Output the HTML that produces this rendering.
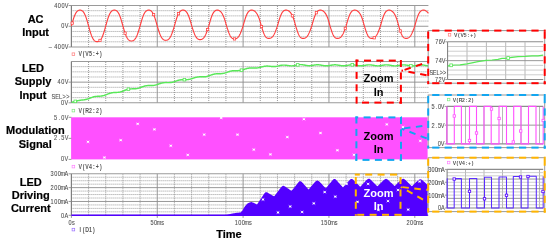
<!DOCTYPE html>
<html><head><meta charset="utf-8"><title>LED driver simulation</title>
<style>html,body{margin:0;padding:0;background:#fff;overflow:hidden;}svg{display:block;filter:blur(0.35px);}</style>
</head><body>
<svg width="550" height="244" viewBox="0 0 550 244">
<rect x="0" y="0" width="550" height="244" fill="#fff"/>
<line x1="71.4" y1="5.5" x2="71.4" y2="47" stroke="#8c8c8c" stroke-width="0.9"/>
<line x1="88.57" y1="6" x2="88.57" y2="47" stroke="#8e8e8e" stroke-width="0.9" stroke-dasharray="1,1"/>
<line x1="105.74" y1="6" x2="105.74" y2="47" stroke="#8e8e8e" stroke-width="0.9" stroke-dasharray="1,1"/>
<line x1="122.91" y1="6" x2="122.91" y2="47" stroke="#8e8e8e" stroke-width="0.9" stroke-dasharray="1,1"/>
<line x1="140.08" y1="6" x2="140.08" y2="47" stroke="#8e8e8e" stroke-width="0.9" stroke-dasharray="1,1"/>
<line x1="157.25" y1="5.5" x2="157.25" y2="47" stroke="#8c8c8c" stroke-width="0.9"/>
<line x1="174.42" y1="6" x2="174.42" y2="47" stroke="#8e8e8e" stroke-width="0.9" stroke-dasharray="1,1"/>
<line x1="191.59" y1="6" x2="191.59" y2="47" stroke="#8e8e8e" stroke-width="0.9" stroke-dasharray="1,1"/>
<line x1="208.76" y1="6" x2="208.76" y2="47" stroke="#8e8e8e" stroke-width="0.9" stroke-dasharray="1,1"/>
<line x1="225.93" y1="6" x2="225.93" y2="47" stroke="#8e8e8e" stroke-width="0.9" stroke-dasharray="1,1"/>
<line x1="243.1" y1="5.5" x2="243.1" y2="47" stroke="#8c8c8c" stroke-width="0.9"/>
<line x1="260.27" y1="6" x2="260.27" y2="47" stroke="#8e8e8e" stroke-width="0.9" stroke-dasharray="1,1"/>
<line x1="277.44" y1="6" x2="277.44" y2="47" stroke="#8e8e8e" stroke-width="0.9" stroke-dasharray="1,1"/>
<line x1="294.61" y1="6" x2="294.61" y2="47" stroke="#8e8e8e" stroke-width="0.9" stroke-dasharray="1,1"/>
<line x1="311.78" y1="6" x2="311.78" y2="47" stroke="#8e8e8e" stroke-width="0.9" stroke-dasharray="1,1"/>
<line x1="328.95" y1="5.5" x2="328.95" y2="47" stroke="#8c8c8c" stroke-width="0.9"/>
<line x1="346.12" y1="6" x2="346.12" y2="47" stroke="#8e8e8e" stroke-width="0.9" stroke-dasharray="1,1"/>
<line x1="363.29" y1="6" x2="363.29" y2="47" stroke="#8e8e8e" stroke-width="0.9" stroke-dasharray="1,1"/>
<line x1="380.46" y1="6" x2="380.46" y2="47" stroke="#8e8e8e" stroke-width="0.9" stroke-dasharray="1,1"/>
<line x1="397.63" y1="6" x2="397.63" y2="47" stroke="#8e8e8e" stroke-width="0.9" stroke-dasharray="1,1"/>
<line x1="414.8" y1="5.5" x2="414.8" y2="47" stroke="#8c8c8c" stroke-width="0.9"/>
<line x1="71.4" y1="10.69" x2="428.4" y2="10.69" stroke="#8e8e8e" stroke-width="0.9" stroke-dasharray="1,1"/>
<line x1="71.4" y1="15.88" x2="428.4" y2="15.88" stroke="#8e8e8e" stroke-width="0.9" stroke-dasharray="1,1"/>
<line x1="71.4" y1="21.06" x2="428.4" y2="21.06" stroke="#8e8e8e" stroke-width="0.9" stroke-dasharray="1,1"/>
<line x1="71.4" y1="26.25" x2="428.4" y2="26.25" stroke="#8c8c8c" stroke-width="0.9"/>
<line x1="71.4" y1="31.44" x2="428.4" y2="31.44" stroke="#8e8e8e" stroke-width="0.9" stroke-dasharray="1,1"/>
<line x1="71.4" y1="36.62" x2="428.4" y2="36.62" stroke="#8e8e8e" stroke-width="0.9" stroke-dasharray="1,1"/>
<line x1="71.4" y1="41.81" x2="428.4" y2="41.81" stroke="#8e8e8e" stroke-width="0.9" stroke-dasharray="1,1"/>
<line x1="71.4" y1="5.5" x2="428.4" y2="5.5" stroke="#9a9a9a" stroke-width="1.1"/>
<line x1="71.4" y1="47" x2="428.4" y2="47" stroke="#9a9a9a" stroke-width="1.1"/>
<line x1="71.4" y1="5.5" x2="71.4" y2="47" stroke="#7a7a7a" stroke-width="1.0"/>
<line x1="71.4" y1="61.5" x2="71.4" y2="102.8" stroke="#8c8c8c" stroke-width="0.9"/>
<line x1="88.57" y1="62" x2="88.57" y2="102.8" stroke="#8e8e8e" stroke-width="0.9" stroke-dasharray="1,1"/>
<line x1="105.74" y1="62" x2="105.74" y2="102.8" stroke="#8e8e8e" stroke-width="0.9" stroke-dasharray="1,1"/>
<line x1="122.91" y1="62" x2="122.91" y2="102.8" stroke="#8e8e8e" stroke-width="0.9" stroke-dasharray="1,1"/>
<line x1="140.08" y1="62" x2="140.08" y2="102.8" stroke="#8e8e8e" stroke-width="0.9" stroke-dasharray="1,1"/>
<line x1="157.25" y1="61.5" x2="157.25" y2="102.8" stroke="#8c8c8c" stroke-width="0.9"/>
<line x1="174.42" y1="62" x2="174.42" y2="102.8" stroke="#8e8e8e" stroke-width="0.9" stroke-dasharray="1,1"/>
<line x1="191.59" y1="62" x2="191.59" y2="102.8" stroke="#8e8e8e" stroke-width="0.9" stroke-dasharray="1,1"/>
<line x1="208.76" y1="62" x2="208.76" y2="102.8" stroke="#8e8e8e" stroke-width="0.9" stroke-dasharray="1,1"/>
<line x1="225.93" y1="62" x2="225.93" y2="102.8" stroke="#8e8e8e" stroke-width="0.9" stroke-dasharray="1,1"/>
<line x1="243.1" y1="61.5" x2="243.1" y2="102.8" stroke="#8c8c8c" stroke-width="0.9"/>
<line x1="260.27" y1="62" x2="260.27" y2="102.8" stroke="#8e8e8e" stroke-width="0.9" stroke-dasharray="1,1"/>
<line x1="277.44" y1="62" x2="277.44" y2="102.8" stroke="#8e8e8e" stroke-width="0.9" stroke-dasharray="1,1"/>
<line x1="294.61" y1="62" x2="294.61" y2="102.8" stroke="#8e8e8e" stroke-width="0.9" stroke-dasharray="1,1"/>
<line x1="311.78" y1="62" x2="311.78" y2="102.8" stroke="#8e8e8e" stroke-width="0.9" stroke-dasharray="1,1"/>
<line x1="328.95" y1="61.5" x2="328.95" y2="102.8" stroke="#8c8c8c" stroke-width="0.9"/>
<line x1="346.12" y1="62" x2="346.12" y2="102.8" stroke="#8e8e8e" stroke-width="0.9" stroke-dasharray="1,1"/>
<line x1="363.29" y1="62" x2="363.29" y2="102.8" stroke="#8e8e8e" stroke-width="0.9" stroke-dasharray="1,1"/>
<line x1="380.46" y1="62" x2="380.46" y2="102.8" stroke="#8e8e8e" stroke-width="0.9" stroke-dasharray="1,1"/>
<line x1="397.63" y1="62" x2="397.63" y2="102.8" stroke="#8e8e8e" stroke-width="0.9" stroke-dasharray="1,1"/>
<line x1="414.8" y1="61.5" x2="414.8" y2="102.8" stroke="#8c8c8c" stroke-width="0.9"/>
<line x1="71.4" y1="66.66" x2="428.4" y2="66.66" stroke="#8e8e8e" stroke-width="0.9" stroke-dasharray="1,1"/>
<line x1="71.4" y1="71.83" x2="428.4" y2="71.83" stroke="#8e8e8e" stroke-width="0.9" stroke-dasharray="1,1"/>
<line x1="71.4" y1="76.99" x2="428.4" y2="76.99" stroke="#8e8e8e" stroke-width="0.9" stroke-dasharray="1,1"/>
<line x1="71.4" y1="82.15" x2="428.4" y2="82.15" stroke="#8c8c8c" stroke-width="0.9"/>
<line x1="71.4" y1="87.31" x2="428.4" y2="87.31" stroke="#8e8e8e" stroke-width="0.9" stroke-dasharray="1,1"/>
<line x1="71.4" y1="92.47" x2="428.4" y2="92.47" stroke="#8e8e8e" stroke-width="0.9" stroke-dasharray="1,1"/>
<line x1="71.4" y1="97.64" x2="428.4" y2="97.64" stroke="#8e8e8e" stroke-width="0.9" stroke-dasharray="1,1"/>
<line x1="71.4" y1="61.5" x2="428.4" y2="61.5" stroke="#9a9a9a" stroke-width="1.1"/>
<line x1="71.4" y1="102.8" x2="428.4" y2="102.8" stroke="#9a9a9a" stroke-width="1.1"/>
<line x1="71.4" y1="61.5" x2="71.4" y2="102.8" stroke="#7a7a7a" stroke-width="1.0"/>
<rect x="71.1" y="117.3" width="356.5" height="42.1" fill="#ff50ff"/>
<line x1="71.4" y1="173.8" x2="71.4" y2="215.3" stroke="#8c8c8c" stroke-width="0.9"/>
<line x1="88.57" y1="174.3" x2="88.57" y2="215.3" stroke="#8e8e8e" stroke-width="0.9" stroke-dasharray="1,1"/>
<line x1="105.74" y1="174.3" x2="105.74" y2="215.3" stroke="#8e8e8e" stroke-width="0.9" stroke-dasharray="1,1"/>
<line x1="122.91" y1="174.3" x2="122.91" y2="215.3" stroke="#8e8e8e" stroke-width="0.9" stroke-dasharray="1,1"/>
<line x1="140.08" y1="174.3" x2="140.08" y2="215.3" stroke="#8e8e8e" stroke-width="0.9" stroke-dasharray="1,1"/>
<line x1="157.25" y1="173.8" x2="157.25" y2="215.3" stroke="#8c8c8c" stroke-width="0.9"/>
<line x1="174.42" y1="174.3" x2="174.42" y2="215.3" stroke="#8e8e8e" stroke-width="0.9" stroke-dasharray="1,1"/>
<line x1="191.59" y1="174.3" x2="191.59" y2="215.3" stroke="#8e8e8e" stroke-width="0.9" stroke-dasharray="1,1"/>
<line x1="208.76" y1="174.3" x2="208.76" y2="215.3" stroke="#8e8e8e" stroke-width="0.9" stroke-dasharray="1,1"/>
<line x1="225.93" y1="174.3" x2="225.93" y2="215.3" stroke="#8e8e8e" stroke-width="0.9" stroke-dasharray="1,1"/>
<line x1="243.1" y1="173.8" x2="243.1" y2="215.3" stroke="#8c8c8c" stroke-width="0.9"/>
<line x1="260.27" y1="174.3" x2="260.27" y2="215.3" stroke="#8e8e8e" stroke-width="0.9" stroke-dasharray="1,1"/>
<line x1="277.44" y1="174.3" x2="277.44" y2="215.3" stroke="#8e8e8e" stroke-width="0.9" stroke-dasharray="1,1"/>
<line x1="294.61" y1="174.3" x2="294.61" y2="215.3" stroke="#8e8e8e" stroke-width="0.9" stroke-dasharray="1,1"/>
<line x1="311.78" y1="174.3" x2="311.78" y2="215.3" stroke="#8e8e8e" stroke-width="0.9" stroke-dasharray="1,1"/>
<line x1="328.95" y1="173.8" x2="328.95" y2="215.3" stroke="#8c8c8c" stroke-width="0.9"/>
<line x1="346.12" y1="174.3" x2="346.12" y2="215.3" stroke="#8e8e8e" stroke-width="0.9" stroke-dasharray="1,1"/>
<line x1="363.29" y1="174.3" x2="363.29" y2="215.3" stroke="#8e8e8e" stroke-width="0.9" stroke-dasharray="1,1"/>
<line x1="380.46" y1="174.3" x2="380.46" y2="215.3" stroke="#8e8e8e" stroke-width="0.9" stroke-dasharray="1,1"/>
<line x1="397.63" y1="174.3" x2="397.63" y2="215.3" stroke="#8e8e8e" stroke-width="0.9" stroke-dasharray="1,1"/>
<line x1="414.8" y1="173.8" x2="414.8" y2="215.3" stroke="#8c8c8c" stroke-width="0.9"/>
<line x1="71.4" y1="177.26" x2="428.4" y2="177.26" stroke="#8e8e8e" stroke-width="0.9" stroke-dasharray="1,1"/>
<line x1="71.4" y1="180.72" x2="428.4" y2="180.72" stroke="#8e8e8e" stroke-width="0.9" stroke-dasharray="1,1"/>
<line x1="71.4" y1="184.18" x2="428.4" y2="184.18" stroke="#8e8e8e" stroke-width="0.9" stroke-dasharray="1,1"/>
<line x1="71.4" y1="187.63" x2="428.4" y2="187.63" stroke="#8c8c8c" stroke-width="0.9"/>
<line x1="71.4" y1="191.09" x2="428.4" y2="191.09" stroke="#8e8e8e" stroke-width="0.9" stroke-dasharray="1,1"/>
<line x1="71.4" y1="194.55" x2="428.4" y2="194.55" stroke="#8e8e8e" stroke-width="0.9" stroke-dasharray="1,1"/>
<line x1="71.4" y1="198.01" x2="428.4" y2="198.01" stroke="#8e8e8e" stroke-width="0.9" stroke-dasharray="1,1"/>
<line x1="71.4" y1="201.47" x2="428.4" y2="201.47" stroke="#8c8c8c" stroke-width="0.9"/>
<line x1="71.4" y1="204.93" x2="428.4" y2="204.93" stroke="#8e8e8e" stroke-width="0.9" stroke-dasharray="1,1"/>
<line x1="71.4" y1="208.38" x2="428.4" y2="208.38" stroke="#8e8e8e" stroke-width="0.9" stroke-dasharray="1,1"/>
<line x1="71.4" y1="211.84" x2="428.4" y2="211.84" stroke="#8e8e8e" stroke-width="0.9" stroke-dasharray="1,1"/>
<line x1="71.4" y1="173.8" x2="428.4" y2="173.8" stroke="#9a9a9a" stroke-width="1.1"/>
<line x1="71.4" y1="215.3" x2="428.4" y2="215.3" stroke="#9a9a9a" stroke-width="1.1"/>
<line x1="71.4" y1="173.8" x2="71.4" y2="215.3" stroke="#7a7a7a" stroke-width="1.0"/>
<line x1="68.6" y1="5.5" x2="71.4" y2="5.5" stroke="#8c8c8c" stroke-width="0.9"/>
<line x1="68.6" y1="26.25" x2="71.4" y2="26.25" stroke="#8c8c8c" stroke-width="0.9"/>
<line x1="68.6" y1="47" x2="71.4" y2="47" stroke="#8c8c8c" stroke-width="0.9"/>
<line x1="68.6" y1="82.15" x2="71.4" y2="82.15" stroke="#8c8c8c" stroke-width="0.9"/>
<line x1="68.6" y1="102.8" x2="71.4" y2="102.8" stroke="#8c8c8c" stroke-width="0.9"/>
<line x1="68.6" y1="117.3" x2="71.4" y2="117.3" stroke="#8c8c8c" stroke-width="0.9"/>
<line x1="68.6" y1="138.35" x2="71.4" y2="138.35" stroke="#8c8c8c" stroke-width="0.9"/>
<line x1="68.6" y1="159.4" x2="71.4" y2="159.4" stroke="#8c8c8c" stroke-width="0.9"/>
<line x1="68.6" y1="173.8" x2="71.4" y2="173.8" stroke="#8c8c8c" stroke-width="0.9"/>
<line x1="68.6" y1="187.63" x2="71.4" y2="187.63" stroke="#8c8c8c" stroke-width="0.9"/>
<line x1="68.6" y1="201.47" x2="71.4" y2="201.47" stroke="#8c8c8c" stroke-width="0.9"/>
<line x1="68.6" y1="215.3" x2="71.4" y2="215.3" stroke="#8c8c8c" stroke-width="0.9"/>
<text transform="scale(0.82,1)" x="67.96 72.41 76.86 81.31" y="7.93" font-family='"Liberation Sans", Arial, sans-serif' font-size="6.8" fill="#505050" font-weight="normal" text-anchor="middle" stroke="#505050" stroke-width="0.1">400V</text>
<text transform="scale(0.82,1)" x="76.68 81.25" y="28.33" font-family='"Liberation Sans", Arial, sans-serif' font-size="6.8" fill="#505050" font-weight="normal" text-anchor="middle" stroke="#505050" stroke-width="0.1">0V</text>
<text transform="scale(0.82,1)" x="67.96 72.41 76.86 81.31" y="49.03" font-family='"Liberation Sans", Arial, sans-serif' font-size="6.8" fill="#505050" font-weight="normal" text-anchor="middle" stroke="#505050" stroke-width="0.1">400V</text>
<text transform="scale(0.82,1)" x="61.40" y="48.9" font-family='"Liberation Sans", Arial, sans-serif' font-size="6.8" fill="#505050" stroke="#505050" stroke-width="0.2" text-anchor="middle">&#8211;</text>
<text transform="scale(0.82,1)" x="71.95 76.59 81.22" y="84.43" font-family='"Liberation Sans", Arial, sans-serif' font-size="6.8" fill="#505050" font-weight="normal" text-anchor="middle" stroke="#505050" stroke-width="0.1">40V</text>
<text transform="scale(0.82,1)" x="65.12 69.51 73.90 78.29 82.68" y="98.53" font-family='"Liberation Sans", Arial, sans-serif' font-size="6.8" fill="#505050" font-weight="normal" text-anchor="middle" stroke="#505050" stroke-width="0.1">SEL&gt;&gt;</text>
<text transform="scale(0.82,1)" x="76.43 81.01" y="104.93" font-family='"Liberation Sans", Arial, sans-serif' font-size="6.8" fill="#505050" font-weight="normal" text-anchor="middle" stroke="#505050" stroke-width="0.1">0V</text>
<text transform="scale(0.82,1)" x="67.64 72.18 76.72 81.27" y="119.83" font-family='"Liberation Sans", Arial, sans-serif' font-size="6.8" fill="#505050" font-weight="normal" text-anchor="middle" stroke="#505050" stroke-width="0.1">5.0V</text>
<text transform="scale(0.82,1)" x="67.64 72.18 76.72 81.27" y="140.33" font-family='"Liberation Sans", Arial, sans-serif' font-size="6.8" fill="#505050" font-weight="normal" text-anchor="middle" stroke="#505050" stroke-width="0.1">2.5V</text>
<text transform="scale(0.82,1)" x="76.43 81.01" y="161.33" font-family='"Liberation Sans", Arial, sans-serif' font-size="6.8" fill="#505050" font-weight="normal" text-anchor="middle" stroke="#505050" stroke-width="0.1">0V</text>
<text transform="scale(0.82,1)" x="63.63 67.98 72.32 76.66 81.00" y="175.83" font-family='"Liberation Sans", Arial, sans-serif' font-size="6.8" fill="#505050" font-weight="normal" text-anchor="middle" stroke="#505050" stroke-width="0.1">300mA</text>
<text transform="scale(0.82,1)" x="63.63 67.98 72.32 76.66 81.00" y="190.03" font-family='"Liberation Sans", Arial, sans-serif' font-size="6.8" fill="#505050" font-weight="normal" text-anchor="middle" stroke="#505050" stroke-width="0.1">200mA</text>
<text transform="scale(0.82,1)" x="63.63 67.98 72.32 76.66 81.00" y="203.83" font-family='"Liberation Sans", Arial, sans-serif' font-size="6.8" fill="#505050" font-weight="normal" text-anchor="middle" stroke="#505050" stroke-width="0.1">100mA</text>
<text transform="scale(0.82,1)" x="76.31 80.88" y="217.63" font-family='"Liberation Sans", Arial, sans-serif' font-size="6.8" fill="#505050" font-weight="normal" text-anchor="middle" stroke="#505050" stroke-width="0.1">0A</text>
<line x1="71.4" y1="215.3" x2="71.4" y2="217.9" stroke="#8c8c8c" stroke-width="0.9"/>
<text transform="scale(0.82,1)" x="85.37 89.63" y="224.83" font-family='"Liberation Sans", Arial, sans-serif' font-size="6.8" fill="#505050" font-weight="normal" text-anchor="middle" stroke="#505050" stroke-width="0.1">0s</text>
<line x1="157.25" y1="215.3" x2="157.25" y2="217.9" stroke="#8c8c8c" stroke-width="0.9"/>
<text transform="scale(0.82,1)" x="185.59 189.83 194.07 198.31" y="224.83" font-family='"Liberation Sans", Arial, sans-serif' font-size="6.8" fill="#505050" font-weight="normal" text-anchor="middle" stroke="#505050" stroke-width="0.1">50ms</text>
<line x1="243.1" y1="215.3" x2="243.1" y2="217.9" stroke="#8c8c8c" stroke-width="0.9"/>
<text transform="scale(0.82,1)" x="288.30 292.54 296.77 301.00 305.23" y="224.83" font-family='"Liberation Sans", Arial, sans-serif' font-size="6.8" fill="#505050" font-weight="normal" text-anchor="middle" stroke="#505050" stroke-width="0.1">100ms</text>
<line x1="328.95" y1="215.3" x2="328.95" y2="217.9" stroke="#8c8c8c" stroke-width="0.9"/>
<text transform="scale(0.82,1)" x="393.00 397.23 401.46 405.70 409.93" y="224.83" font-family='"Liberation Sans", Arial, sans-serif' font-size="6.8" fill="#505050" font-weight="normal" text-anchor="middle" stroke="#505050" stroke-width="0.1">150ms</text>
<line x1="414.8" y1="215.3" x2="414.8" y2="217.9" stroke="#8c8c8c" stroke-width="0.9"/>
<text transform="scale(0.82,1)" x="497.57 501.80 506.04 510.27 514.50" y="224.83" font-family='"Liberation Sans", Arial, sans-serif' font-size="6.8" fill="#505050" font-weight="normal" text-anchor="middle" stroke="#505050" stroke-width="0.1">200ms</text>
<polyline points="71.4,26 71.75,24.72 72.1,23.46 72.45,22.22 72.8,21.01 73.15,19.84 73.5,18.73 73.85,17.68 74.2,16.69 74.55,15.78 74.9,14.94 75.25,14.18 75.6,13.49 75.95,12.88 76.3,12.34 76.65,11.88 77,11.48 77.35,11.14 77.7,10.86 78.05,10.63 78.4,10.45 78.75,10.31 79.1,10.2 79.45,10.14 79.8,10.1 80.15,10.1 80.5,10.13 80.85,10.2 81.2,10.3 81.55,10.44 81.9,10.62 82.25,10.84 82.6,11.12 82.95,11.46 83.3,11.85 83.65,12.31 84,12.85 84.35,13.45 84.7,14.14 85.05,14.89 85.4,15.73 85.75,16.64 86.1,17.62 86.45,18.67 86.8,19.78 87.15,20.94 87.5,22.15 87.85,23.39 88.2,24.65 88.55,25.93 88.9,27.19 89.25,28.44 89.6,29.67 89.95,30.86 90.3,32.01 90.65,33.12 91,34.16 91.35,35.14 91.7,36.04 92.05,36.88 92.4,37.63 92.75,38.32 93.1,38.92 93.45,39.46 93.8,39.92 94.15,40.32 94.5,40.66 94.85,40.94 95.2,41.17 95.55,41.35 95.9,41.49 96.25,41.59 96.6,41.66 96.95,41.69 97.3,41.69 97.65,41.66 98,41.59 98.35,41.48 98.7,41.34 99.05,41.16 99.4,40.93 99.75,40.66 100.1,40.32 100.45,39.93 100.8,39.47 101.15,38.95 101.5,38.35 101.85,37.68 102.2,36.94 102.55,36.12 102.9,35.22 103.25,34.26 103.6,33.24 103.95,32.15 104.3,31.01 104.65,29.84 105,28.62 105.35,27.39 105.7,26.14 106.05,24.87 106.4,23.6 106.75,22.36 107.1,21.15 107.45,19.97 107.8,18.86 108.15,17.8 108.5,16.8 108.85,15.88 109.2,15.03 109.55,14.26 109.9,13.56 110.25,12.95 110.6,12.4 110.95,11.93 111.3,11.52 111.65,11.17 112,10.89 112.35,10.65 112.7,10.46 113.05,10.32 113.4,10.21 113.75,10.14 114.1,10.11 114.45,10.1 114.8,10.13 115.15,10.19 115.5,10.29 115.85,10.42 116.2,10.59 116.55,10.82 116.9,11.09 117.25,11.41 117.6,11.8 117.95,12.26 118.3,12.78 118.65,13.38 119,14.05 119.35,14.8 119.7,15.63 120.05,16.53 120.4,17.51 120.75,18.55 121.1,19.65 121.45,20.81 121.8,22.01 122.15,23.24 122.5,24.51 122.85,25.78 123.2,27.01 123.55,28.22 123.9,29.4 124.25,30.56 124.6,31.68 124.95,32.74 125.3,33.75 125.65,34.69 126,35.57 126.35,36.38 126.7,37.11 127.05,37.77 127.4,38.35 127.75,38.87 128.1,39.31 128.45,39.7 128.8,40.02 129.15,40.29 129.5,40.51 129.85,40.68 130.2,40.81 130.55,40.91 130.9,40.97 131.25,41 131.6,41 131.95,40.97 132.3,40.9 132.65,40.81 133,40.68 133.35,40.51 133.7,40.3 134.05,40.04 134.4,39.73 134.75,39.36 135.1,38.93 135.45,38.43 135.8,37.87 136.15,37.24 136.5,36.53 136.85,35.76 137.2,34.91 137.55,34 137.9,33.03 138.25,32 138.6,30.92 138.95,29.79 139.3,28.64 139.65,27.46 140,26.27 140.35,25.01 140.7,23.75 141.05,22.5 141.4,21.28 141.75,20.11 142.1,18.98 142.45,17.91 142.8,16.91 143.15,15.98 143.5,15.13 143.85,14.34 144.2,13.64 144.55,13.01 144.9,12.46 145.25,11.98 145.6,11.56 145.95,11.21 146.3,10.92 146.65,10.68 147,10.48 147.35,10.33 147.7,10.22 148.05,10.15 148.4,10.11 148.75,10.1 149.1,10.12 149.45,10.18 149.8,10.27 150.15,10.4 150.5,10.57 150.85,10.79 151.2,11.05 151.55,11.37 151.9,11.76 152.25,12.2 152.6,12.72 152.95,13.31 153.3,13.97 153.65,14.71 154,15.53 154.35,16.43 154.7,17.39 155.05,18.42 155.4,19.52 155.75,20.67 156.1,21.87 156.45,23.1 156.8,24.36 157.15,25.63 157.5,26.83 157.85,27.99 158.2,29.12 158.55,30.23 158.9,31.3 159.25,32.32 159.6,33.29 159.95,34.19 160.3,35.04 160.65,35.81 161,36.52 161.35,37.16 161.7,37.72 162.05,38.22 162.4,38.66 162.75,39.03 163.1,39.34 163.45,39.6 163.8,39.82 164.15,39.99 164.5,40.12 164.85,40.21 165.2,40.27 165.55,40.3 165.9,40.3 166.25,40.28 166.6,40.22 166.95,40.13 167.3,40.01 167.65,39.86 168,39.66 168.35,39.42 168.7,39.12 169.05,38.78 169.4,38.38 169.75,37.91 170.1,37.38 170.45,36.79 170.8,36.12 171.15,35.39 171.5,34.59 171.85,33.73 172.2,32.81 172.55,31.83 172.9,30.81 173.25,29.74 173.6,28.64 173.95,27.52 174.3,26.39 174.65,25.16 175,23.89 175.35,22.64 175.7,21.42 176.05,20.24 176.4,19.11 176.75,18.03 177.1,17.02 177.45,16.08 177.8,15.22 178.15,14.43 178.5,13.72 178.85,13.08 179.2,12.52 179.55,12.03 179.9,11.61 180.25,11.25 180.6,10.95 180.95,10.7 181.3,10.5 181.65,10.35 182,10.23 182.35,10.16 182.7,10.11 183.05,10.1 183.4,10.12 183.75,10.17 184.1,10.26 184.45,10.38 184.8,10.55 185.15,10.75 185.5,11.01 185.85,11.32 186.2,11.68 186.55,12.1 186.9,12.59 187.25,13.15 187.6,13.78 187.95,14.48 188.3,15.25 188.65,16.09 189,17 189.35,17.98 189.7,19.02 190.05,20.12 190.4,21.26 190.75,22.45 191.1,23.67 191.45,24.92 191.8,26.16 192.15,27.25 192.5,28.34 192.85,29.41 193.2,30.45 193.55,31.46 193.9,32.42 194.25,33.33 194.6,34.18 194.95,34.98 195.3,35.7 195.65,36.35 196,36.94 196.35,37.46 196.7,37.91 197.05,38.29 197.4,38.62 197.75,38.89 198.1,39.11 198.45,39.28 198.8,39.41 199.15,39.51 199.5,39.57 199.85,39.61 200.2,39.61 200.55,39.59 200.9,39.54 201.25,39.46 201.6,39.35 201.95,39.2 202.3,39.02 202.65,38.79 203,38.52 203.35,38.2 203.7,37.82 204.05,37.38 204.4,36.89 204.75,36.33 205.1,35.7 205.45,35.01 205.8,34.26 206.15,33.45 206.5,32.58 206.85,31.65 207.2,30.68 207.55,29.67 207.9,28.63 208.25,27.57 208.6,26.49 208.95,25.31 209.3,24.04 209.65,22.78 210,21.56 210.35,20.37 210.7,19.23 211.05,18.15 211.4,17.14 211.75,16.19 212.1,15.31 212.45,14.52 212.8,13.79 213.15,13.15 213.5,12.58 213.85,12.08 214.2,11.65 214.55,11.29 214.9,10.98 215.25,10.73 215.6,10.52 215.95,10.36 216.3,10.25 216.65,10.16 217,10.12 217.35,10.1 217.7,10.12 218.05,10.16 218.4,10.24 218.75,10.36 219.1,10.5 219.45,10.69 219.8,10.91 220.15,11.17 220.5,11.48 220.85,11.84 221.2,12.25 221.55,12.71 221.9,13.23 222.25,13.81 222.6,14.45 222.95,15.15 223.3,15.92 223.65,16.75 224,17.65 224.35,18.62 224.7,19.65 225.05,20.74 225.4,21.89 225.75,23.09 226.1,24.33 226.45,25.6 226.8,26.74 227.15,27.81 227.5,28.88 227.85,29.94 228.2,30.97 228.55,31.95 228.9,32.89 229.25,33.77 229.6,34.58 229.95,35.31 230.3,35.97 230.65,36.56 231,37.06 231.35,37.49 231.7,37.85 232.05,38.14 232.4,38.38 232.75,38.57 233.1,38.71 233.45,38.81 233.8,38.87 234.15,38.91 234.5,38.92 234.85,38.9 235.2,38.85 235.55,38.78 235.9,38.68 236.25,38.54 236.6,38.37 236.95,38.16 237.3,37.91 237.65,37.61 238,37.26 238.35,36.85 238.7,36.38 239.05,35.86 239.4,35.27 239.75,34.63 240.1,33.92 240.45,33.16 240.8,32.34 241.15,31.46 241.5,30.55 241.85,29.6 242.2,28.61 242.55,27.61 242.9,26.59 243.25,25.45 243.6,24.18 243.95,22.92 244.3,21.69 244.65,20.5 245,19.36 245.35,18.27 245.7,17.25 246.05,16.29 246.4,15.41 246.75,14.6 247.1,13.87 247.45,13.22 247.8,12.64 248.15,12.14 248.5,11.7 248.85,11.33 249.2,11.01 249.55,10.75 249.9,10.54 250.25,10.38 250.6,10.26 250.95,10.17 251.3,10.12 251.65,10.1 252,10.11 252.35,10.16 252.7,10.23 253.05,10.33 253.4,10.46 253.75,10.62 254.1,10.82 254.45,11.05 254.8,11.31 255.15,11.61 255.5,11.94 255.85,12.32 256.2,12.75 256.55,13.22 256.9,13.74 257.25,14.31 257.6,14.95 257.95,15.64 258.3,16.41 258.65,17.24 259,18.15 259.35,19.13 259.7,20.18 260.05,21.31 260.4,22.53 260.75,23.8 261.1,25.13 261.45,26.39 261.8,27.48 262.15,28.57 262.5,29.65 262.85,30.71 263.2,31.72 263.55,32.68 263.9,33.57 264.25,34.39 264.6,35.12 264.95,35.77 265.3,36.33 265.65,36.81 266,37.21 266.35,37.53 266.7,37.79 267.05,37.99 267.4,38.15 267.75,38.26 268.1,38.34 268.45,38.38 268.8,38.4 269.15,38.39 269.5,38.36 269.85,38.3 270.2,38.21 270.55,38.09 270.9,37.94 271.25,37.74 271.6,37.51 271.95,37.23 272.3,36.91 272.65,36.53 273,36.09 273.35,35.59 273.7,35.04 274.05,34.43 274.4,33.75 274.75,33.02 275.1,32.24 275.45,31.4 275.8,30.52 276.15,29.6 276.5,28.65 276.85,27.67 277.2,26.68 277.55,25.6 277.9,24.32 278.25,23.07 278.6,21.83 278.95,20.64 279.3,19.49 279.65,18.39 280,17.36 280.35,16.4 280.7,15.51 281.05,14.69 281.4,13.95 281.75,13.29 282.1,12.7 282.45,12.19 282.8,11.74 283.15,11.36 283.5,11.04 283.85,10.78 284.2,10.57 284.55,10.4 284.9,10.27 285.25,10.18 285.6,10.12 285.95,10.1 286.3,10.11 286.65,10.15 287,10.22 287.35,10.32 287.7,10.44 288.05,10.6 288.4,10.78 288.75,11 289.1,11.26 289.45,11.55 289.8,11.87 290.15,12.24 290.5,12.65 290.85,13.11 291.2,13.62 291.55,14.19 291.9,14.81 292.25,15.5 292.6,16.26 292.95,17.09 293.3,18 293.65,18.98 294,20.04 294.35,21.18 294.7,22.38 295.05,23.65 295.4,24.98 295.75,26.27 296.1,27.35 296.45,28.44 296.8,29.53 297.15,30.59 297.5,31.61 297.85,32.58 298.2,33.48 298.55,34.3 298.9,35.05 299.25,35.7 299.6,36.27 299.95,36.76 300.3,37.16 300.65,37.5 301,37.76 301.35,37.97 301.7,38.13 302.05,38.25 302.4,38.33 302.75,38.38 303.1,38.4 303.45,38.39 303.8,38.36 304.15,38.31 304.5,38.22 304.85,38.1 305.2,37.96 305.55,37.77 305.9,37.54 306.25,37.27 306.6,36.95 306.95,36.57 307.3,36.14 307.65,35.65 308,35.11 308.35,34.5 308.7,33.83 309.05,33.11 309.4,32.33 309.75,31.5 310.1,30.62 310.45,29.71 310.8,28.76 311.15,27.79 311.5,26.8 311.85,25.74 312.2,24.47 312.55,23.21 312.9,21.97 313.25,20.77 313.6,19.62 313.95,18.52 314.3,17.48 314.65,16.51 315,15.61 315.35,14.78 315.7,14.03 316.05,13.36 316.4,12.77 316.75,12.24 317.1,11.79 317.45,11.4 317.8,11.08 318.15,10.81 318.5,10.59 318.85,10.41 319.2,10.28 319.55,10.19 319.9,10.13 320.25,10.1 320.6,10.11 320.95,10.14 321.3,10.21 321.65,10.3 322,10.43 322.35,10.58 322.7,10.76 323.05,10.98 323.4,11.23 323.75,11.51 324.1,11.83 324.45,12.2 324.8,12.6 325.15,13.06 325.5,13.56 325.85,14.12 326.2,14.74 326.55,15.42 326.9,16.17 327.25,16.99 327.6,17.89 327.95,18.87 328.3,19.92 328.65,21.04 329,22.24 329.35,23.5 329.7,24.82 330.05,26.14 330.4,27.23 330.75,28.32 331.1,29.4 331.45,30.47 331.8,31.49 332.15,32.47 332.5,33.38 332.85,34.21 333.2,34.96 333.55,35.63 333.9,36.21 334.25,36.71 334.6,37.12 334.95,37.46 335.3,37.74 335.65,37.95 336,38.12 336.35,38.24 336.7,38.32 337.05,38.38 337.4,38.4 337.75,38.4 338.1,38.37 338.45,38.31 338.8,38.23 339.15,38.12 339.5,37.97 339.85,37.79 340.2,37.57 340.55,37.3 340.9,36.99 341.25,36.62 341.6,36.19 341.95,35.71 342.3,35.17 342.65,34.57 343,33.91 343.35,33.19 343.7,32.42 344.05,31.6 344.4,30.72 344.75,29.81 345.1,28.87 345.45,27.9 345.8,26.91 346.15,25.89 346.5,24.61 346.85,23.35 347.2,22.11 347.55,20.91 347.9,19.75 348.25,18.64 348.6,17.59 348.95,16.61 349.3,15.7 349.65,14.87 350,14.11 350.35,13.44 350.7,12.83 351.05,12.3 351.4,11.84 351.75,11.45 352.1,11.11 352.45,10.84 352.8,10.61 353.15,10.43 353.5,10.3 353.85,10.2 354.2,10.13 354.55,10.1 354.9,10.1 355.25,10.14 355.6,10.2 355.95,10.29 356.3,10.41 356.65,10.56 357,10.74 357.35,10.95 357.7,11.2 358.05,11.48 358.4,11.79 358.75,12.15 359.1,12.55 359.45,13 359.8,13.5 360.15,14.05 360.5,14.66 360.85,15.34 361.2,16.08 361.55,16.9 361.9,17.79 362.25,18.75 362.6,19.79 362.95,20.91 363.3,22.1 363.65,23.36 364,24.67 364.35,26.02 364.7,27.1 365.05,28.19 365.4,29.28 365.75,30.35 366.1,31.38 366.45,32.36 366.8,33.28 367.15,34.12 367.5,34.88 367.85,35.56 368.2,36.15 368.55,36.65 368.9,37.08 369.25,37.43 369.6,37.71 369.95,37.93 370.3,38.1 370.65,38.23 371,38.32 371.35,38.37 371.7,38.4 372.05,38.4 372.4,38.37 372.75,38.32 373.1,38.24 373.45,38.13 373.8,37.99 374.15,37.81 374.5,37.6 374.85,37.33 375.2,37.02 375.55,36.66 375.9,36.24 376.25,35.77 376.6,35.24 376.95,34.64 377.3,33.99 377.65,33.28 378,32.51 378.35,31.69 378.7,30.83 379.05,29.92 379.4,28.98 379.75,28.01 380.1,27.02 380.45,26.03 380.8,24.76 381.15,23.49 381.5,22.25 381.85,21.04 382.2,19.88 382.55,18.76 382.9,17.71 383.25,16.72 383.6,15.8 383.95,14.96 384.3,14.2 384.65,13.51 385,12.9 385.35,12.36 385.7,11.89 386.05,11.49 386.4,11.15 386.75,10.87 387.1,10.63 387.45,10.45 387.8,10.31 388.15,10.21 388.5,10.14 388.85,10.1 389.2,10.1 389.55,10.13 389.9,10.19 390.25,10.28 390.6,10.39 390.95,10.54 391.3,10.72 391.65,10.93 392,11.17 392.35,11.44 392.7,11.76 393.05,12.11 393.4,12.51 393.75,12.95 394.1,13.44 394.45,13.99 394.8,14.59 395.15,15.26 395.5,15.99 395.85,16.8 396.2,17.68 396.55,18.64 396.9,19.67 397.25,20.78 397.6,21.96 397.95,23.21 398.3,24.52 398.65,25.87 399,26.98 399.35,28.07 399.7,29.16 400.05,30.23 400.4,31.26 400.75,32.25 401.1,33.18 401.45,34.03 401.8,34.8 402.15,35.49 402.5,36.09 402.85,36.6 403.2,37.03 403.55,37.39 403.9,37.68 404.25,37.91 404.6,38.08 404.95,38.22 405.3,38.31 405.65,38.37 406,38.4 406.35,38.4 406.7,38.38 407.05,38.33 407.4,38.25 407.75,38.15 408.1,38.01 408.45,37.84 408.8,37.62 409.15,37.37 409.5,37.06 409.85,36.71 410.2,36.3 410.55,35.83 410.9,35.3 411.25,34.71 411.6,34.07 411.95,33.36 412.3,32.6 412.65,31.79 413,30.93 413.35,30.02 413.7,29.09 414.05,28.12 414.4,27.14 414.75,26.14 415.1,24.91 415.45,23.64 415.8,22.39 416.15,21.18 416.5,20.01 416.85,18.89 417.2,17.83 417.55,16.83 417.9,15.91 418.25,15.06 418.6,14.28 418.95,13.58 419.3,12.96 419.65,12.42 420,11.94 420.35,11.53 420.7,11.18 421.05,10.89 421.4,10.66 421.75,10.47 422.1,10.32 422.45,10.22 422.8,10.14 423.15,10.11 423.5,10.1 423.85,10.13 424.2,10.18 424.55,10.27 424.9,10.38 425.25,10.52 425.6,10.7 425.95,10.9 426.3,11.14 426.65,11.41 427,11.72 427.35,12.07 427.7,12.46 428.05,12.9 428.4,13.38" fill="none" stroke="#ff4040" stroke-width="1.15" stroke-linejoin="round"/>
<rect x="71.05" y="21.95" width="2.3" height="2.3" fill="#fff" stroke="#ff4040" stroke-width="0.75"/>
<rect x="98.85" y="39.27" width="2.3" height="2.3" fill="#fff" stroke="#ff4040" stroke-width="0.75"/>
<rect x="123.95" y="32.03" width="2.3" height="2.3" fill="#fff" stroke="#ff4040" stroke-width="0.75"/>
<rect x="152.45" y="13.45" width="2.3" height="2.3" fill="#fff" stroke="#ff4040" stroke-width="0.75"/>
<rect x="177.35" y="12.57" width="2.3" height="2.3" fill="#fff" stroke="#ff4040" stroke-width="0.75"/>
<rect x="206.45" y="28.38" width="2.3" height="2.3" fill="#fff" stroke="#ff4040" stroke-width="0.75"/>
<rect x="233.35" y="37.77" width="2.3" height="2.3" fill="#fff" stroke="#ff4040" stroke-width="0.75"/>
<rect x="260.35" y="25.39" width="2.3" height="2.3" fill="#fff" stroke="#ff4040" stroke-width="0.75"/>
<rect x="291.25" y="14.67" width="2.3" height="2.3" fill="#fff" stroke="#ff4040" stroke-width="0.75"/>
<rect x="315.25" y="11.62" width="2.3" height="2.3" fill="#fff" stroke="#ff4040" stroke-width="0.75"/>
<rect x="344.15" y="27.17" width="2.3" height="2.3" fill="#fff" stroke="#ff4040" stroke-width="0.75"/>
<rect x="373.05" y="36.64" width="2.3" height="2.3" fill="#fff" stroke="#ff4040" stroke-width="0.75"/>
<rect x="399.15" y="29.82" width="2.3" height="2.3" fill="#fff" stroke="#ff4040" stroke-width="0.75"/>
<polyline points="71.6,102.3 72.2,102.17 72.8,102.03 73.4,101.88 74,101.73 74.6,101.57 75.2,101.41 75.8,101.25 76.4,101.09 77,100.94 77.6,100.79 78.2,100.65 78.8,100.53 79.4,100.41 80,100.31 80.6,100.22 81.2,100.14 81.8,100.06 82.4,99.99 83,99.92 83.6,99.85 84.2,99.77 84.8,99.67 85.4,99.56 86,99.44 86.6,99.29 87.2,99.13 87.8,98.94 88.4,98.74 89,98.52 89.6,98.28 90.2,98.04 90.8,97.79 91.4,97.56 92,97.34 92.6,97.14 93.2,96.96 93.8,96.8 94.4,96.66 95,96.55 95.6,96.46 96.2,96.4 96.8,96.35 97.4,96.31 98,96.28 98.6,96.25 99.2,96.22 99.8,96.19 100.4,96.15 101,96.09 101.6,96.01 102.2,95.91 102.8,95.78 103.4,95.64 104,95.47 104.6,95.27 105.2,95.06 105.8,94.84 106.4,94.6 107,94.36 107.6,94.12 108.2,93.89 108.8,93.66 109.4,93.45 110,93.26 110.6,93.09 111.2,92.94 111.8,92.81 112.4,92.71 113,92.64 113.6,92.58 114.2,92.53 114.8,92.5 115.4,92.48 116,92.46 116.6,92.43 117.2,92.4 117.8,92.35 118.4,92.28 119,92.2 119.6,92.09 120.2,91.96 120.8,91.8 121.4,91.62 122,91.42 122.6,91.21 123.2,90.98 123.8,90.74 124.4,90.5 125,90.26 125.6,90.03 126.2,89.81 126.8,89.6 127.4,89.42 128,89.27 128.6,89.15 129.2,89.05 129.8,88.97 130.4,88.91 131,88.88 131.6,88.85 132.2,88.84 132.8,88.83 133.4,88.83 134,88.81 134.6,88.79 135.2,88.75 135.8,88.7 136.4,88.62 137,88.52 137.6,88.4 138.2,88.25 138.8,88.08 139.4,87.89 140,87.68 140.6,87.47 141.2,87.24 141.8,87.02 142.4,86.79 143,86.58 143.6,86.38 144.2,86.2 144.8,86.03 145.4,85.89 146,85.78 146.6,85.69 147.2,85.62 147.8,85.57 148.4,85.53 149,85.52 149.6,85.5 150.2,85.5 150.8,85.51 151.4,85.51 152,85.5 152.6,85.47 153.2,85.42 153.8,85.35 154.4,85.26 155,85.14 155.6,85 156.2,84.84 156.8,84.66 157.4,84.46 158,84.26 158.6,84.05 159.2,83.84 159.8,83.64 160.4,83.44 161,83.26 161.6,83.1 162.2,82.96 162.8,82.84 163.4,82.75 164,82.68 164.6,82.63 165.2,82.6 165.8,82.59 166.4,82.59 167,82.6 167.6,82.61 168.2,82.61 168.8,82.61 169.4,82.59 170,82.55 170.6,82.5 171.2,82.42 171.8,82.32 172.4,82.2 173,82.05 173.6,81.88 174.2,81.7 174.8,81.5 175.4,81.29 176,81.08 176.6,80.87 177.2,80.67 177.8,80.48 178.4,80.3 179,80.15 179.6,80.02 180.2,79.91 180.8,79.82 181.4,79.76 182,79.72 182.6,79.7 183.2,79.69 183.8,79.69 184.4,79.7 185,79.71 185.6,79.71 186.2,79.71 186.8,79.68 187.4,79.64 188,79.58 188.6,79.5 189.2,79.39 189.8,79.26 190.4,79.11 191,78.93 191.6,78.74 192.2,78.54 192.8,78.34 193.4,78.13 194,77.92 194.6,77.72 195.2,77.54 195.8,77.37 196.4,77.23 197,77.1 197.6,77 198.2,76.93 198.8,76.87 199.4,76.84 200,76.82 200.6,76.82 201.2,76.83 201.8,76.84 202.4,76.84 203,76.84 203.6,76.83 204.2,76.81 204.8,76.76 205.4,76.69 206,76.6 206.6,76.47 207.2,76.32 207.8,76.15 208.4,75.96 209,75.76 209.6,75.55 210.2,75.33 210.8,75.11 211.4,74.89 212,74.69 212.6,74.5 213.2,74.33 213.8,74.18 214.4,74.05 215,73.95 215.6,73.87 216.2,73.81 216.8,73.78 217.4,73.76 218,73.75 218.6,73.74 219.2,73.74 219.8,73.74 220.4,73.72 221,73.7 221.6,73.65 222.2,73.59 222.8,73.5 223.4,73.39 224,73.26 224.6,73.1 225.2,72.92 225.8,72.74 226.4,72.53 227,72.32 227.6,72.11 228.2,71.89 228.8,71.69 229.4,71.49 230,71.31 230.6,71.16 231.2,71.02 231.8,70.91 232.4,70.82 233,70.75 233.6,70.7 234.2,70.68 234.8,70.67 235.4,70.66 236,70.67 236.6,70.67 237.2,70.67 237.8,70.66 238.4,70.63 239,70.58 239.6,70.52 240.2,70.43 240.8,70.31 241.4,70.18 242,70.03 242.6,69.87 243.2,69.7 243.8,69.51 244.4,69.31 245,69.12 245.6,68.92 246.2,68.74 246.8,68.57 247.4,68.41 248,68.28 248.6,68.17 249.2,68.08 249.8,68.02 250.4,67.97 251,67.95 251.6,67.95 252.2,67.96 252.8,67.98 253.4,68 254,68.02 254.6,68.03 255.2,68.03 255.8,68.02 256.4,67.99 257,67.93 257.6,67.85 258.2,67.75 258.8,67.62 259.4,67.47 260,67.31 260.6,67.17 261.2,67.03 261.8,66.88 262.4,66.74 263,66.59 263.6,66.46 264.2,66.34 264.8,66.24 265.4,66.17 266,66.11 266.6,66.08 267.2,66.07 267.8,66.09 268.4,66.12 269,66.17 269.6,66.23 270.2,66.3 270.8,66.37 271.4,66.44 272,66.5 272.6,66.54 273.2,66.57 273.8,66.58 274.4,66.56 275,66.52 275.6,66.46 276.2,66.37 276.8,66.27 277.4,66.14 278,66.01 278.6,65.86 279.2,65.72 279.8,65.57 280.4,65.44 281,65.34 281.6,65.25 282.2,65.17 282.8,65.12 283.4,65.1 284,65.1 284.6,65.12 285.2,65.16 285.8,65.22 286.4,65.3 287,65.38 287.6,65.47 288.2,65.56 288.8,65.65 289.4,65.72 290,65.78 290.6,65.83 291.2,65.85 291.8,65.85 292.4,65.82 293,65.77 293.6,65.7 294.2,65.61 294.8,65.5 295.4,65.38 296,65.26 296.6,65.13 297.2,65.01 297.8,64.89 298.4,64.79 299,64.7 299.6,64.64 300.2,64.6 300.8,64.61 301.4,64.64 302,64.69 302.6,64.77 303.2,64.86 303.8,64.96 304.4,65.07 305,65.19 305.6,65.3 306.2,65.41 306.8,65.5 307.4,65.58 308,65.64 308.6,65.68 309.2,65.69 309.8,65.68 310.4,65.65 311,65.59 311.6,65.52 312.2,65.43 312.8,65.34 313.4,65.23 314,65.13 314.6,65.03 315.2,64.95 315.8,64.87 316.4,64.82 317,64.79 317.6,64.78 318.2,64.79 318.8,64.83 319.4,64.89 320,64.97 320.6,65.06 321.2,65.16 321.8,65.27 322.4,65.37 323,65.48 323.6,65.58 324.2,65.66 324.8,65.73 325.4,65.78 326,65.8 326.6,65.8 327.2,65.78 327.8,65.73 328.4,65.67 329,65.58 329.6,65.49 330.2,65.38 330.8,65.27 331.4,65.17 332,65.07 332.6,64.98 333.2,64.91 333.8,64.85 334.4,64.82 335,64.81 335.6,64.83 336.2,64.87 336.8,64.93 337.4,65.01 338,65.1 338.6,65.21 339.2,65.32 339.8,65.43 340.4,65.53 341,65.62 341.6,65.7 342.2,65.76 342.8,65.8 343.4,65.82 344,65.81 344.6,65.78 345.2,65.73 345.8,65.66 346.4,65.57 347,65.47 347.6,65.36 348.2,65.25 348.8,65.15 349.4,65.05 350,64.97 350.6,64.9 351.2,64.86 351.8,64.83 352.4,64.83 353,64.86 353.6,64.9 354.2,64.97 354.8,65.06 355.4,65.15 356,65.26 356.6,65.37 357.2,65.48 357.8,65.58 358.4,65.67 359,65.74 359.6,65.8 360.2,65.83 360.8,65.84 361.4,65.82 362,65.78 362.6,65.72 363.2,65.64 363.8,65.55 364.4,65.45 365,65.34 365.6,65.23 366.2,65.13 366.8,65.04 367.4,64.96 368,64.9 368.6,64.86 369.2,64.85 369.8,64.85 370.4,64.89 371,64.94 371.6,65.01 372.2,65.1 372.8,65.2 373.4,65.31 374,65.42 374.6,65.53 375.2,65.63 375.8,65.71 376.4,65.78 377,65.83 377.6,65.85 378.2,65.85 378.8,65.83 379.4,65.78 380,65.71 380.6,65.63 381.2,65.53 381.8,65.43 382.4,65.32 383,65.21 383.6,65.11 384.2,65.02 384.8,64.95 385.4,64.9 386,64.87 386.6,64.86 387.2,64.88 387.8,64.92 388.4,64.98 389,65.06 389.6,65.15 390.2,65.26 390.8,65.36 391.4,65.47 392,65.58 392.6,65.67 393.2,65.75 393.8,65.81 394.4,65.85 395,65.87 395.6,65.86 396.2,65.83 396.8,65.78 397.4,65.7 398,65.62 398.6,65.52 399.2,65.41 399.8,65.3 400.4,65.19 401,65.1 401.6,65.01 402.2,64.95 402.8,64.9 403.4,64.88 404,64.88 404.6,64.9 405.2,64.95 405.8,65.02 406.4,65.1 407,65.2 407.6,65.31 408.2,65.42 408.8,65.52 409.4,65.63 410,65.72 410.6,65.79 411.2,65.84 411.8,65.88 412.4,65.88 413,65.87 413.6,65.83 414.2,65.77 414.8,65.69 415.4,65.6 416,65.5 416.6,65.39 417.2,65.28 417.8,65.18 418.4,65.08 419,65.01 419.6,64.95 420.2,64.91 420.8,64.89 421.4,64.9 422,64.93 422.6,64.99 423.2,65.06 423.8,65.15 424.4,65.25 425,65.36 425.6,65.47 426.2,65.58 426.8,65.67 427.4,65.76 428,65.82 428.4,65.86" fill="none" stroke="#58e858" stroke-width="1.45" stroke-linejoin="round"/>
<rect x="74" y="100.08" width="2.6" height="2.6" fill="#fff" stroke="#58e858" stroke-width="0.8"/>
<rect x="127.1" y="87.89" width="2.6" height="2.6" fill="#fff" stroke="#58e858" stroke-width="0.8"/>
<rect x="183.1" y="78.4" width="2.6" height="2.6" fill="#fff" stroke="#58e858" stroke-width="0.8"/>
<rect x="240.2" y="68.85" width="2.6" height="2.6" fill="#fff" stroke="#58e858" stroke-width="0.8"/>
<rect x="296.4" y="63.61" width="2.6" height="2.6" fill="#fff" stroke="#58e858" stroke-width="0.8"/>
<rect x="351" y="63.53" width="2.6" height="2.6" fill="#fff" stroke="#58e858" stroke-width="0.8"/>
<rect x="409.6" y="64.52" width="2.6" height="2.6" fill="#fff" stroke="#58e858" stroke-width="0.8"/>
<rect x="87" y="141" width="2" height="1.6" fill="#fff"/>
<path d="M86.4,140.5L89.6,143.1M89.6,140.5L86.4,143.1" stroke="#fff" stroke-width="0.55" opacity="0.8"/>
<rect x="103.4" y="156.7" width="2" height="1.6" fill="#fff"/>
<path d="M102.8,156.2L106,158.8M106,156.2L102.8,158.8" stroke="#fff" stroke-width="0.55" opacity="0.8"/>
<rect x="119.7" y="139.4" width="2" height="1.6" fill="#fff"/>
<path d="M119.1,138.9L122.3,141.5M122.3,138.9L119.1,141.5" stroke="#fff" stroke-width="0.55" opacity="0.8"/>
<rect x="136.7" y="123" width="2" height="1.6" fill="#fff"/>
<path d="M136.1,122.5L139.3,125.1M139.3,122.5L136.1,125.1" stroke="#fff" stroke-width="0.55" opacity="0.8"/>
<rect x="153.4" y="128.6" width="2" height="1.6" fill="#fff"/>
<path d="M152.8,128.1L156,130.7M156,128.1L152.8,130.7" stroke="#fff" stroke-width="0.55" opacity="0.8"/>
<rect x="169.8" y="144.9" width="2" height="1.6" fill="#fff"/>
<path d="M169.2,144.4L172.4,147M172.4,144.4L169.2,147" stroke="#fff" stroke-width="0.55" opacity="0.8"/>
<rect x="186.8" y="154.1" width="2" height="1.6" fill="#fff"/>
<path d="M186.2,153.6L189.4,156.2M189.4,153.6L186.2,156.2" stroke="#fff" stroke-width="0.55" opacity="0.8"/>
<rect x="203.2" y="133.8" width="2" height="1.6" fill="#fff"/>
<path d="M202.6,133.3L205.8,135.9M205.8,133.3L202.6,135.9" stroke="#fff" stroke-width="0.55" opacity="0.8"/>
<rect x="220.2" y="117.1" width="2" height="1.6" fill="#fff"/>
<path d="M219.6,116.6L222.8,119.2M222.8,116.6L219.6,119.2" stroke="#fff" stroke-width="0.55" opacity="0.8"/>
<rect x="236.5" y="133.8" width="2" height="1.6" fill="#fff"/>
<path d="M235.9,133.3L239.1,135.9M239.1,133.3L235.9,135.9" stroke="#fff" stroke-width="0.55" opacity="0.8"/>
<rect x="252.8" y="148.8" width="2" height="1.6" fill="#fff"/>
<path d="M252.2,148.3L255.4,150.9M255.4,148.3L252.2,150.9" stroke="#fff" stroke-width="0.55" opacity="0.8"/>
<rect x="269.4" y="153.6" width="2" height="1.6" fill="#fff"/>
<path d="M268.8,153.1L272,155.7M272,153.1L268.8,155.7" stroke="#fff" stroke-width="0.55" opacity="0.8"/>
<rect x="286.3" y="136.3" width="2" height="1.6" fill="#fff"/>
<path d="M285.7,135.8L288.9,138.4M288.9,135.8L285.7,138.4" stroke="#fff" stroke-width="0.55" opacity="0.8"/>
<rect x="302.9" y="118.4" width="2" height="1.6" fill="#fff"/>
<path d="M302.3,117.9L305.5,120.5M305.5,117.9L302.3,120.5" stroke="#fff" stroke-width="0.55" opacity="0.8"/>
<rect x="319.5" y="132.2" width="2" height="1.6" fill="#fff"/>
<path d="M318.9,131.7L322.1,134.3M322.1,131.7L318.9,134.3" stroke="#fff" stroke-width="0.55" opacity="0.8"/>
<rect x="336.4" y="149.5" width="2" height="1.6" fill="#fff"/>
<path d="M335.8,149L339,151.6M339,149L335.8,151.6" stroke="#fff" stroke-width="0.55" opacity="0.8"/>
<rect x="353" y="154" width="2" height="1.6" fill="#fff"/>
<path d="M352.4,153.5L355.6,156.1M355.6,153.5L352.4,156.1" stroke="#fff" stroke-width="0.55" opacity="0.8"/>
<rect x="369.5" y="138.2" width="2" height="1.6" fill="#fff"/>
<path d="M368.9,137.7L372.1,140.3M372.1,137.7L368.9,140.3" stroke="#fff" stroke-width="0.55" opacity="0.8"/>
<rect x="385.8" y="123.6" width="2" height="1.6" fill="#fff"/>
<path d="M385.2,123.1L388.4,125.7M388.4,123.1L385.2,125.7" stroke="#fff" stroke-width="0.55" opacity="0.8"/>
<rect x="402" y="126.3" width="2" height="1.6" fill="#fff"/>
<path d="M401.4,125.8L404.6,128.4M404.6,125.8L401.4,128.4" stroke="#fff" stroke-width="0.55" opacity="0.8"/>
<rect x="419.3" y="140.1" width="2" height="1.6" fill="#fff"/>
<path d="M418.7,139.6L421.9,142.2M421.9,139.6L418.7,142.2" stroke="#fff" stroke-width="0.55" opacity="0.8"/>
<path d="M71.4,215.9 L224,215.9 L224,215.3 L224.5,215.3 L225,215.23 L225.5,215.15 L226,215.07 L226.5,215 L227,214.86 L227.5,214.71 L228,214.57 L228.5,214.43 L229,214.29 L229.5,214.14 L230,214 L230.5,213.9 L231,213.8 L231.5,213.7 L232,213.6 L232.5,213.5 L233,213.4 L233.5,213.3 L234,213.2 L234.5,213.13 L235,213.07 L235.5,213 L236,212.93 L236.5,212.87 L237,212.8 L237.5,212.74 L238,212.69 L238.5,212.63 L239,212.57 L239.5,212.51 L240,212.46 L240.5,212.4 L241,211.93 L241.5,211.45 L242,210.97 L242.5,210.5 L243,209.57 L243.5,208.63 L244,207.7 L244.5,207.02 L245,206.35 L245.5,205.68 L246,205 L246.5,204.53 L247,204.07 L247.5,203.6 L248,203.35 L248.5,203.1 L249,202.85 L249.5,202.6 L250,202.42 L250.5,202.23 L251,202.05 L251.5,201.94 L252,202.16 L252.5,202.38 L253,202.6 L253.5,202.84 L254,203.07 L254.5,203.31 L255,203.55 L255.5,203.79 L256,204.03 L256.5,204.26 L257,204.54 L257.5,203.8 L258,203.06 L258.5,202.32 L259,201.57 L259.5,200.81 L260,200.05 L260.5,199.29 L261,198.52 L261.5,197.75 L262,196.97 L262.5,196.2 L263,195.43 L263.5,194.68 L264,193.96 L264.5,193.31 L265,192.78 L265.5,192.35 L266,192.22 L266.5,192.24 L267,192.37 L267.5,192.59 L268,192.86 L268.5,193.15 L269,193.45 L269.5,193.75 L270,194.04 L270.5,194.34 L271,194.63 L271.5,194.91 L272,195.19 L272.5,195.46 L273,195.72 L273.5,195.98 L274,196.24 L274.5,195.95 L275,195.3 L275.5,194.65 L276,193.99 L276.5,193.33 L277,192.67 L277.5,192.01 L278,191.35 L278.5,190.68 L279,190.02 L279.5,189.35 L280,188.7 L280.5,188.05 L281,187.43 L281.5,186.86 L282,186.39 L282.5,186.03 L283,185.84 L283.5,185.85 L284,185.97 L284.5,186.2 L285,186.49 L285.5,186.8 L286,187.14 L286.5,187.48 L287,187.82 L287.5,188.17 L288,188.51 L288.5,188.86 L289,189.2 L289.5,189.55 L290,189.89 L290.5,190.23 L291,190.57 L291.5,190.73 L292,190.19 L292.5,189.63 L293,189.06 L293.5,188.48 L294,187.89 L294.5,187.28 L295,186.66 L295.5,186.03 L296,185.39 L296.5,184.75 L297,184.09 L297.5,183.44 L298,182.8 L298.5,182.2 L299,181.68 L299.5,181.29 L300,181 L300.5,181.14 L301,181.38 L301.5,181.76 L302,182.23 L302.5,182.75 L303,183.29 L303.5,183.85 L304,184.41 L304.5,184.97 L305,185.53 L305.5,186.1 L306,186.66 L306.5,187.22 L307,187.78 L307.5,188.33 L308,188.88 L308.5,189.43 L309,189.05 L309.5,188.44 L310,187.82 L310.5,187.21 L311,186.61 L311.5,186 L312,185.41 L312.5,184.81 L313,184.22 L313.5,183.64 L314,183.06 L314.5,182.5 L315,181.96 L315.5,181.46 L316,181.03 L316.5,180.72 L317,180.53 L317.5,180.53 L318,180.67 L318.5,180.95 L319,181.33 L319.5,181.78 L320,182.26 L320.5,182.77 L321,183.28 L321.5,183.8 L322,184.33 L322.5,184.86 L323,185.39 L323.5,185.93 L324,186.47 L324.5,187.02 L325,187.56 L325.5,188.11 L326,188.2 L326.5,187.58 L327,186.97 L327.5,186.35 L328,185.73 L328.5,185.11 L329,184.49 L329.5,183.87 L330,183.25 L330.5,182.63 L331,182.01 L331.5,181.4 L332,180.81 L332.5,180.24 L333,179.73 L333.5,179.32 L334,179.04 L334.5,178.92 L335,179.08 L335.5,179.36 L336,179.77 L336.5,180.26 L337,180.79 L337.5,181.34 L338,181.89 L338.5,182.46 L339,183.02 L339.5,183.58 L340,184.14 L340.5,184.7 L341,185.25 L341.5,185.8 L342,186.35 L342.5,186.9 L343,187.44 L343.5,186.86 L344,186.27 L344.5,185.69 L345,185.11 L345.5,184.54 L346,183.97 L346.5,183.4 L347,182.84 L347.5,182.28 L348,181.73 L348.5,181.18 L349,180.65 L349.5,180.15 L350,179.69 L350.5,179.31 L351,179.04 L351.5,178.89 L352,178.97 L352.5,179.17 L353,179.5 L353.5,179.92 L354,180.39 L354.5,180.89 L355,181.4 L355.5,181.92 L356,182.44 L356.5,182.97 L357,183.49 L357.5,184.02 L358,184.54 L358.5,185.07 L359,185.59 L359.5,186.11 L360,186.63 L360.5,186.51 L361,185.96 L361.5,185.42 L362,184.87 L362.5,184.33 L363,183.78 L363.5,183.24 L364,182.7 L364.5,182.17 L365,181.64 L365.5,181.11 L366,180.6 L366.5,180.1 L367,179.63 L367.5,179.23 L368,178.92 L368.5,178.73 L369,178.71 L369.5,178.87 L370,179.15 L370.5,179.54 L371,179.99 L371.5,180.47 L372,180.96 L372.5,181.47 L373,181.98 L373.5,182.49 L374,183 L374.5,183.51 L375,184.02 L375.5,184.52 L376,185.03 L376.5,185.54 L377,186.04 L377.5,186.33 L378,185.81 L378.5,185.29 L379,184.78 L379.5,184.26 L380,183.75 L380.5,183.25 L381,182.74 L381.5,182.24 L382,181.75 L382.5,181.26 L383,180.78 L383.5,180.32 L384,179.88 L384.5,179.48 L385,179.16 L385.5,178.96 L386,178.84 L386.5,178.96 L387,179.17 L387.5,179.48 L388,179.87 L388.5,180.3 L389,180.75 L389.5,181.22 L390,181.69 L390.5,182.16 L391,182.63 L391.5,183.1 L392,183.58 L392.5,184.05 L393,184.52 L393.5,185 L394,185.47 L394.5,185.94 L395,185.66 L395.5,185.18 L396,184.7 L396.5,184.23 L397,183.75 L397.5,183.27 L398,182.79 L398.5,182.31 L399,181.83 L399.5,181.36 L400,180.89 L400.5,180.42 L401,179.97 L401.5,179.55 L402,179.2 L402.5,178.94 L403,178.79 L403.5,178.82 L404,179 L404.5,179.29 L405,179.68 L405.5,180.12 L406,180.59 L406.5,181.07 L407,181.56 L407.5,182.05 L408,182.55 L408.5,183.05 L409,183.54 L409.5,184.04 L410,184.54 L410.5,185.04 L411,185.54 L411.5,186.04 L412,186.14 L412.5,185.65 L413,185.17 L413.5,184.69 L414,184.21 L414.5,183.73 L415,183.25 L415.5,182.78 L416,182.32 L416.5,181.85 L417,181.4 L417.5,180.95 L418,180.52 L418.5,180.11 L419,179.75 L419.5,179.48 L420,179.31 L420.5,179.25 L421,179.38 L421.5,179.6 L422,179.93 L422.5,180.32 L423,180.75 L423.5,181.19 L424,181.65 L424.5,182.11 L425,182.57 L425.5,183.04 L426,183.51 L426.5,183.98 L427,184.45 L427.5,184.92 L427.6,185.01 L427.6,215.9 Z" fill="#5200ff" stroke="none"/>
<line x1="71.4" y1="215.3" x2="427.6" y2="215.3" stroke="#5200ff" stroke-width="1.4"/>
<rect x="262" y="198.7" width="2" height="1.6" fill="#fff"/>
<path d="M261.4,198.2L264.6,200.8M264.6,198.2L261.4,200.8" stroke="#fff" stroke-width="0.55" opacity="0.8"/>
<rect x="277" y="211.7" width="2" height="1.6" fill="#fff"/>
<path d="M276.4,211.2L279.6,213.8M279.6,211.2L276.4,213.8" stroke="#fff" stroke-width="0.55" opacity="0.8"/>
<rect x="289.2" y="205.7" width="2" height="1.6" fill="#fff"/>
<path d="M288.6,205.2L291.8,207.8M291.8,205.2L288.6,207.8" stroke="#fff" stroke-width="0.55" opacity="0.8"/>
<rect x="301.1" y="211.2" width="2" height="1.6" fill="#fff"/>
<path d="M300.5,210.7L303.7,213.3M303.7,210.7L300.5,213.3" stroke="#fff" stroke-width="0.55" opacity="0.8"/>
<rect x="312.8" y="202.6" width="2" height="1.6" fill="#fff"/>
<path d="M312.2,202.1L315.4,204.7M315.4,202.1L312.2,204.7" stroke="#fff" stroke-width="0.55" opacity="0.8"/>
<rect x="323.7" y="191.3" width="2" height="1.6" fill="#fff"/>
<path d="M323.1,190.8L326.3,193.4M326.3,190.8L323.1,193.4" stroke="#fff" stroke-width="0.55" opacity="0.8"/>
<rect x="334.3" y="195.8" width="2" height="1.6" fill="#fff"/>
<path d="M333.7,195.3L336.9,197.9M336.9,195.3L333.7,197.9" stroke="#fff" stroke-width="0.55" opacity="0.8"/>
<rect x="345.6" y="183.1" width="2" height="1.6" fill="#fff"/>
<path d="M345,182.6L348.2,185.2M348.2,182.6L345,185.2" stroke="#fff" stroke-width="0.55" opacity="0.8"/>
<rect x="356.5" y="201" width="2" height="1.6" fill="#fff"/>
<path d="M355.9,200.5L359.1,203.1M359.1,200.5L355.9,203.1" stroke="#fff" stroke-width="0.55" opacity="0.8"/>
<rect x="367.1" y="183.1" width="2" height="1.6" fill="#fff"/>
<path d="M366.5,182.6L369.7,185.2M369.7,182.6L366.5,185.2" stroke="#fff" stroke-width="0.55" opacity="0.8"/>
<rect x="377.4" y="209.2" width="2" height="1.6" fill="#fff"/>
<path d="M376.8,208.7L380,211.3M380,208.7L376.8,211.3" stroke="#fff" stroke-width="0.55" opacity="0.8"/>
<rect x="387" y="200.3" width="2" height="1.6" fill="#fff"/>
<path d="M386.4,199.8L389.6,202.4M389.6,199.8L386.4,202.4" stroke="#fff" stroke-width="0.55" opacity="0.8"/>
<rect x="397" y="189.2" width="2" height="1.6" fill="#fff"/>
<path d="M396.4,188.7L399.6,191.3M399.6,188.7L396.4,191.3" stroke="#fff" stroke-width="0.55" opacity="0.8"/>
<rect x="407.2" y="208.8" width="2" height="1.6" fill="#fff"/>
<path d="M406.6,208.3L409.8,210.9M409.8,208.3L406.6,210.9" stroke="#fff" stroke-width="0.55" opacity="0.8"/>
<rect x="418.6" y="180.7" width="2" height="1.6" fill="#fff"/>
<path d="M418,180.2L421.2,182.8M421.2,180.2L418,182.8" stroke="#fff" stroke-width="0.55" opacity="0.8"/>
<rect x="72.1" y="52.9" width="2.6" height="2.6" fill="#fff" stroke="#ff7a7a" stroke-width="0.7"/>
<text transform="scale(0.82,1)" x="97.82 102.00 106.18 110.37 114.55 118.73 122.91" y="56.49" font-family='"Liberation Sans", Arial, sans-serif' font-size="6.4" fill="#555" font-weight="bold" text-anchor="middle">V(V5:+)</text>
<rect x="72.1" y="109.3" width="2.6" height="2.6" fill="#fff" stroke="#80e880" stroke-width="0.7"/>
<text transform="scale(0.82,1)" x="97.82 102.00 106.18 110.37 114.55 118.73 122.91" y="112.89" font-family='"Liberation Sans", Arial, sans-serif' font-size="6.4" fill="#555" font-weight="bold" text-anchor="middle">V(R2:2)</text>
<rect x="72.1" y="165.3" width="2.6" height="2.6" fill="#fff" stroke="#ff80ff" stroke-width="0.7"/>
<text transform="scale(0.82,1)" x="97.82 102.00 106.18 110.37 114.55 118.73 122.91" y="168.89" font-family='"Liberation Sans", Arial, sans-serif' font-size="6.4" fill="#555" font-weight="bold" text-anchor="middle">V(V4:+)</text>
<rect x="72.1" y="228.3" width="2.6" height="2.6" fill="#fff" stroke="#9a70ff" stroke-width="0.7"/>
<text transform="scale(0.82,1)" x="97.83 102.02 106.22 110.41 114.61" y="231.89" font-family='"Liberation Sans", Arial, sans-serif' font-size="6.4" fill="#555" font-weight="bold" text-anchor="middle">I(D1)</text>
<rect x="355.6" y="59.6" width="3" height="2" fill="#ff0000"/>
<rect x="364" y="59.6" width="7" height="2" fill="#ff0000"/>
<rect x="376.4" y="59.6" width="7" height="2" fill="#ff0000"/>
<rect x="388.8" y="59.6" width="7" height="2" fill="#ff0000"/>
<rect x="362" y="101.6" width="7" height="2" fill="#ff0000"/>
<rect x="374.4" y="101.6" width="7" height="2" fill="#ff0000"/>
<rect x="386.8" y="101.6" width="7" height="2" fill="#ff0000"/>
<rect x="399.2" y="101.6" width="2.7" height="2" fill="#ff0000"/>
<rect x="355.6" y="59.6" width="2" height="6.9" fill="#ff0000"/>
<rect x="355.6" y="71.9" width="2" height="7" fill="#ff0000"/>
<rect x="355.6" y="84.3" width="2" height="7" fill="#ff0000"/>
<rect x="355.6" y="96.7" width="2" height="6.9" fill="#ff0000"/>
<rect x="399.9" y="60" width="2" height="7" fill="#ff0000"/>
<rect x="399.9" y="72.4" width="2" height="7" fill="#ff0000"/>
<rect x="399.9" y="84.8" width="2" height="7" fill="#ff0000"/>
<rect x="399.9" y="97.2" width="2" height="6.4" fill="#ff0000"/>
<rect x="355.4" y="116.4" width="2.8" height="2" fill="#12a6f0"/>
<rect x="363.6" y="116.4" width="7" height="2" fill="#12a6f0"/>
<rect x="376" y="116.4" width="7" height="2" fill="#12a6f0"/>
<rect x="388.4" y="116.4" width="7" height="2" fill="#12a6f0"/>
<rect x="400.8" y="116.4" width="1.2" height="2" fill="#12a6f0"/>
<rect x="355.4" y="158.9" width="1.7" height="2" fill="#12a6f0"/>
<rect x="362.5" y="158.9" width="7" height="2" fill="#12a6f0"/>
<rect x="374.9" y="158.9" width="7" height="2" fill="#12a6f0"/>
<rect x="387.3" y="158.9" width="7" height="2" fill="#12a6f0"/>
<rect x="399.7" y="158.9" width="2.3" height="2" fill="#12a6f0"/>
<rect x="355.4" y="116.5" width="2" height="7" fill="#12a6f0"/>
<rect x="355.4" y="128.9" width="2" height="7" fill="#12a6f0"/>
<rect x="355.4" y="141.3" width="2" height="7" fill="#12a6f0"/>
<rect x="355.4" y="153.7" width="2" height="7" fill="#12a6f0"/>
<rect x="400" y="117" width="2" height="7" fill="#12a6f0"/>
<rect x="400" y="129.4" width="2" height="7" fill="#12a6f0"/>
<rect x="400" y="141.8" width="2" height="7" fill="#12a6f0"/>
<rect x="400" y="154.2" width="2" height="6.7" fill="#12a6f0"/>
<rect x="354.8" y="173.6" width="5" height="2" fill="#ffb400"/>
<rect x="365.2" y="173.6" width="7" height="2" fill="#ffb400"/>
<rect x="377.6" y="173.6" width="7" height="2" fill="#ffb400"/>
<rect x="390" y="173.6" width="7" height="2" fill="#ffb400"/>
<rect x="357.2" y="213.8" width="7" height="2" fill="#ffb400"/>
<rect x="369.6" y="213.8" width="7" height="2" fill="#ffb400"/>
<rect x="382" y="213.8" width="7" height="2" fill="#ffb400"/>
<rect x="394.4" y="213.8" width="7" height="2" fill="#ffb400"/>
<rect x="354.8" y="177" width="2" height="7" fill="#ffb400"/>
<rect x="354.8" y="189.4" width="2" height="7" fill="#ffb400"/>
<rect x="354.8" y="201.8" width="2" height="7" fill="#ffb400"/>
<rect x="354.8" y="214.2" width="2" height="1.6" fill="#ffb400"/>
<rect x="399.5" y="177" width="2" height="7" fill="#ffb400"/>
<rect x="399.5" y="189.4" width="2" height="7" fill="#ffb400"/>
<rect x="399.5" y="201.8" width="2" height="7" fill="#ffb400"/>
<rect x="399.5" y="214.2" width="2" height="1.6" fill="#ffb400"/>
<text x="378.6" y="81.8" font-family='"Liberation Sans", Arial, sans-serif' font-size="11" text-anchor="middle" fill="#000" font-weight="bold">Zoom</text>
<text x="378.6" y="95.8" font-family='"Liberation Sans", Arial, sans-serif' font-size="11" text-anchor="middle" fill="#000" font-weight="bold">In</text>
<text x="378.6" y="139.7" font-family='"Liberation Sans", Arial, sans-serif' font-size="11" text-anchor="middle" fill="#000" font-weight="bold">Zoom</text>
<text x="378.6" y="153" font-family='"Liberation Sans", Arial, sans-serif' font-size="11" text-anchor="middle" fill="#000" font-weight="bold">In</text>
<text x="378.6" y="197" font-family='"Liberation Sans", Arial, sans-serif' font-size="11" text-anchor="middle" fill="#fff" font-weight="bold">Zoom</text>
<text x="378.6" y="210.4" font-family='"Liberation Sans", Arial, sans-serif' font-size="11" text-anchor="middle" fill="#fff" font-weight="bold">In</text>
<line x1="401.5" y1="70.8" x2="428.2" y2="62" stroke="#ff0000" stroke-width="1.9" stroke-dasharray="6.5,5.5" stroke-dashoffset="-3.2"/>
<line x1="401.5" y1="70.5" x2="428.2" y2="75.5" stroke="#ff0000" stroke-width="1.9" stroke-dasharray="6.5,5.5" stroke-dashoffset="5"/>
<line x1="401.5" y1="128.7" x2="428.2" y2="125.3" stroke="#12a6f0" stroke-width="1.9" stroke-dasharray="6.5,5.5" stroke-dashoffset="-2.5"/>
<line x1="401.5" y1="128.7" x2="428.2" y2="139" stroke="#12a6f0" stroke-width="1.9" stroke-dasharray="6.5,5.5" stroke-dashoffset="3.5"/>
<line x1="400.8" y1="187" x2="428.2" y2="190" stroke="#ffb400" stroke-width="1.9" stroke-dasharray="6.5,5.5" stroke-dashoffset="-1.6"/>
<line x1="400.8" y1="187" x2="428.2" y2="202.5" stroke="#ffb400" stroke-width="1.9" stroke-dasharray="6.5,5.5" stroke-dashoffset="5"/>
<rect x="428.2" y="30.6" width="116.5" height="52.6" fill="#fff" stroke="#999" stroke-width="1"/>
<rect x="448.3" y="33.6" width="2.5" height="2.5" fill="#fff" stroke="#ff7a7a" stroke-width="0.7"/>
<text transform="scale(0.82,1)" x="555.84 559.70 563.57 567.44 571.31 575.17 579.04" y="36.92" font-family='"Liberation Sans", Arial, sans-serif' font-size="6.2" fill="#555" font-weight="bold" text-anchor="middle">V(V5:+)</text>
<line x1="467" y1="42.3" x2="467" y2="79.5" stroke="#a6a6a6" stroke-width="0.8"/>
<line x1="486.4" y1="42.3" x2="486.4" y2="79.5" stroke="#a6a6a6" stroke-width="0.8"/>
<line x1="505.7" y1="42.3" x2="505.7" y2="79.5" stroke="#a6a6a6" stroke-width="0.8"/>
<line x1="525" y1="42.3" x2="525" y2="79.5" stroke="#a6a6a6" stroke-width="0.8"/>
<line x1="447.6" y1="46.51" x2="543.2" y2="46.51" stroke="#c2c2c2" stroke-width="0.8"/>
<line x1="447.6" y1="51.22" x2="543.2" y2="51.22" stroke="#c2c2c2" stroke-width="0.8"/>
<line x1="447.6" y1="55.94" x2="543.2" y2="55.94" stroke="#c2c2c2" stroke-width="0.8"/>
<line x1="447.6" y1="60.65" x2="543.2" y2="60.65" stroke="#8c8c8c" stroke-width="0.9"/>
<line x1="447.6" y1="65.36" x2="543.2" y2="65.36" stroke="#c2c2c2" stroke-width="0.8"/>
<line x1="447.6" y1="70.08" x2="543.2" y2="70.08" stroke="#c2c2c2" stroke-width="0.8"/>
<line x1="447.6" y1="74.79" x2="543.2" y2="74.79" stroke="#c2c2c2" stroke-width="0.8"/>
<line x1="447.6" y1="41.8" x2="543.2" y2="41.8" stroke="#8c8c8c" stroke-width="1.1"/>
<line x1="447.6" y1="79.5" x2="543.2" y2="79.5" stroke="#8c8c8c" stroke-width="1.1"/>
<line x1="447.6" y1="41.8" x2="447.6" y2="79.5" stroke="#7a7a7a" stroke-width="1.0"/>
<line x1="445.4" y1="41.8" x2="447.6" y2="41.8" stroke="#8c8c8c" stroke-width="0.9"/>
<line x1="445.4" y1="60.6" x2="447.6" y2="60.6" stroke="#8c8c8c" stroke-width="0.9"/>
<line x1="445.4" y1="79.5" x2="447.6" y2="79.5" stroke="#8c8c8c" stroke-width="0.9"/>
<text transform="scale(0.82,1)" x="532.68 536.83 540.98" y="43.93" font-family='"Liberation Sans", Arial, sans-serif' font-size="6.8" fill="#505050" font-weight="normal" text-anchor="middle" stroke="#505050" stroke-width="0.1">76V</text>
<text transform="scale(0.82,1)" x="532.68 536.83 540.98" y="62.83" font-family='"Liberation Sans", Arial, sans-serif' font-size="6.8" fill="#505050" font-weight="normal" text-anchor="middle" stroke="#505050" stroke-width="0.1">74V</text>
<text transform="scale(0.82,1)" x="526.05 530.10 534.15 538.20 542.24" y="74.83" font-family='"Liberation Sans", Arial, sans-serif' font-size="6.8" fill="#505050" font-weight="normal" text-anchor="middle" stroke="#505050" stroke-width="0.1">SEL&gt;&gt;</text>
<text transform="scale(0.82,1)" x="532.48 536.71 540.93" y="81.63" font-family='"Liberation Sans", Arial, sans-serif' font-size="6.8" fill="#505050" font-weight="normal" text-anchor="middle" stroke="#505050" stroke-width="0.1">72V</text>
<polyline points="447.8,66.2 451,65.3 455,65 460,64.8 467,63.8 472,62.8 478,61.6 486,60.4 492,60 498,59.4 502,58.3 505,58.4 508,58 512,57.3 518,56.6 525,56.4 532,55.9 538,55.8 543.2,55.2" fill="none" stroke="#58e858" stroke-width="1.25" stroke-linejoin="round"/>
<rect x="449.8" y="63.9" width="2.8" height="2.8" fill="#fff" stroke="#58e858" stroke-width="0.8"/>
<rect x="506.8" y="56.6" width="2.8" height="2.8" fill="#fff" stroke="#58e858" stroke-width="0.8"/>
<rect x="432.2" y="29.6" width="7.2" height="2" fill="#ff0000"/>
<rect x="444.6" y="29.6" width="7.2" height="2" fill="#ff0000"/>
<rect x="457" y="29.6" width="7.2" height="2" fill="#ff0000"/>
<rect x="469.4" y="29.6" width="7.2" height="2" fill="#ff0000"/>
<rect x="481.8" y="29.6" width="7.2" height="2" fill="#ff0000"/>
<rect x="494.2" y="29.6" width="7.2" height="2" fill="#ff0000"/>
<rect x="506.6" y="29.6" width="7.2" height="2" fill="#ff0000"/>
<rect x="519" y="29.6" width="7.2" height="2" fill="#ff0000"/>
<rect x="531.4" y="29.6" width="7.2" height="2" fill="#ff0000"/>
<rect x="543.8" y="29.6" width="1.9" height="2" fill="#ff0000"/>
<rect x="432.2" y="82.2" width="7.2" height="2" fill="#ff0000"/>
<rect x="444.6" y="82.2" width="7.2" height="2" fill="#ff0000"/>
<rect x="457" y="82.2" width="7.2" height="2" fill="#ff0000"/>
<rect x="469.4" y="82.2" width="7.2" height="2" fill="#ff0000"/>
<rect x="481.8" y="82.2" width="7.2" height="2" fill="#ff0000"/>
<rect x="494.2" y="82.2" width="7.2" height="2" fill="#ff0000"/>
<rect x="506.6" y="82.2" width="7.2" height="2" fill="#ff0000"/>
<rect x="519" y="82.2" width="7.2" height="2" fill="#ff0000"/>
<rect x="531.4" y="82.2" width="7.2" height="2" fill="#ff0000"/>
<rect x="543.8" y="82.2" width="1.9" height="2" fill="#ff0000"/>
<rect x="427.2" y="31.5" width="2" height="7.2" fill="#ff0000"/>
<rect x="427.2" y="43.9" width="2" height="7.2" fill="#ff0000"/>
<rect x="427.2" y="56.3" width="2" height="7.2" fill="#ff0000"/>
<rect x="427.2" y="68.7" width="2" height="7.2" fill="#ff0000"/>
<rect x="427.2" y="81.1" width="2" height="3.1" fill="#ff0000"/>
<rect x="543.7" y="31.5" width="2" height="7.2" fill="#ff0000"/>
<rect x="543.7" y="43.9" width="2" height="7.2" fill="#ff0000"/>
<rect x="543.7" y="56.3" width="2" height="7.2" fill="#ff0000"/>
<rect x="543.7" y="68.7" width="2" height="7.2" fill="#ff0000"/>
<rect x="543.7" y="81.1" width="2" height="3.1" fill="#ff0000"/>
<rect x="428.2" y="95.0" width="116.5" height="52.6" fill="#fff" stroke="#999" stroke-width="1"/>
<rect x="447.4" y="98.3" width="2.5" height="2.5" fill="#fff" stroke="#80e880" stroke-width="0.7"/>
<text transform="scale(0.82,1)" x="554.16 557.86 561.55 565.24 568.94 572.63 576.32" y="101.52" font-family='"Liberation Sans", Arial, sans-serif' font-size="6.2" fill="#555" font-weight="bold" text-anchor="middle">V(R2:2)</text>
<line x1="465.5" y1="106.9" x2="465.5" y2="143.9" stroke="#a6a6a6" stroke-width="0.8"/>
<line x1="484" y1="106.9" x2="484" y2="143.9" stroke="#a6a6a6" stroke-width="0.8"/>
<line x1="502.5" y1="106.9" x2="502.5" y2="143.9" stroke="#a6a6a6" stroke-width="0.8"/>
<line x1="521" y1="106.9" x2="521" y2="143.9" stroke="#a6a6a6" stroke-width="0.8"/>
<line x1="539.5" y1="106.9" x2="539.5" y2="143.9" stroke="#a6a6a6" stroke-width="0.8"/>
<line x1="446.9" y1="125.15" x2="543.2" y2="125.15" stroke="#8c8c8c" stroke-width="0.9"/>
<line x1="446.9" y1="106.4" x2="543.2" y2="106.4" stroke="#8c8c8c" stroke-width="1.1"/>
<line x1="446.9" y1="143.9" x2="543.2" y2="143.9" stroke="#8c8c8c" stroke-width="1.1"/>
<line x1="446.9" y1="106.4" x2="446.9" y2="143.9" stroke="#7a7a7a" stroke-width="1.0"/>
<line x1="444.7" y1="106.4" x2="446.9" y2="106.4" stroke="#8c8c8c" stroke-width="0.9"/>
<line x1="444.7" y1="125.15" x2="446.9" y2="125.15" stroke="#8c8c8c" stroke-width="0.9"/>
<line x1="444.7" y1="143.9" x2="446.9" y2="143.9" stroke="#8c8c8c" stroke-width="0.9"/>
<text transform="scale(0.82,1)" x="528.06 532.00 535.93 539.86" y="108.83" font-family='"Liberation Sans", Arial, sans-serif' font-size="6.8" fill="#505050" font-weight="normal" text-anchor="middle" stroke="#505050" stroke-width="0.1">5.0V</text>
<text transform="scale(0.82,1)" x="528.06 532.00 535.93 539.86" y="127.63" font-family='"Liberation Sans", Arial, sans-serif' font-size="6.8" fill="#505050" font-weight="normal" text-anchor="middle" stroke="#505050" stroke-width="0.1">2.5V</text>
<text transform="scale(0.82,1)" x="535.79 539.82" y="146.23" font-family='"Liberation Sans", Arial, sans-serif' font-size="6.8" fill="#505050" font-weight="normal" text-anchor="middle" stroke="#505050" stroke-width="0.1">0V</text>
<polyline points="446.9,106.4 446.9,106.4 446.9,143.9 454.3,143.9 454.3,106.4 461.4,106.4 461.4,143.9 469.5,143.9 469.5,106.4 476.5,106.4 476.5,143.9 484,143.9 484,106.4 491.2,106.4 491.2,143.9 499,143.9 499,106.4 506.5,106.4 506.5,143.9 513.7,143.9 513.7,106.4 521,106.4 521,143.9 528.5,143.9 528.5,106.4 536,106.4 536,143.9 543.2,143.9 543.2,106.4" fill="none" stroke="#ff50ff" stroke-width="1.1" stroke-linejoin="round"/>
<rect x="453.1" y="114.8" width="2.4" height="2.4" fill="#fff" stroke="#ff50ff" stroke-width="0.8"/>
<rect x="468.3" y="139.3" width="2.4" height="2.4" fill="#fff" stroke="#ff50ff" stroke-width="0.8"/>
<rect x="475.3" y="131.8" width="2.4" height="2.4" fill="#fff" stroke="#ff50ff" stroke-width="0.8"/>
<rect x="490.3" y="107.8" width="2.4" height="2.4" fill="#fff" stroke="#ff50ff" stroke-width="0.8"/>
<rect x="497.9" y="117.3" width="2.4" height="2.4" fill="#fff" stroke="#ff50ff" stroke-width="0.8"/>
<rect x="512.1" y="140.8" width="2.4" height="2.4" fill="#fff" stroke="#ff50ff" stroke-width="0.8"/>
<rect x="519.5" y="129.8" width="2.4" height="2.4" fill="#fff" stroke="#ff50ff" stroke-width="0.8"/>
<rect x="542" y="119.3" width="2.4" height="2.4" fill="#fff" stroke="#ff50ff" stroke-width="0.8"/>
<rect x="432.2" y="94" width="7.2" height="2" fill="#12a6f0"/>
<rect x="444.6" y="94" width="7.2" height="2" fill="#12a6f0"/>
<rect x="457" y="94" width="7.2" height="2" fill="#12a6f0"/>
<rect x="469.4" y="94" width="7.2" height="2" fill="#12a6f0"/>
<rect x="481.8" y="94" width="7.2" height="2" fill="#12a6f0"/>
<rect x="494.2" y="94" width="7.2" height="2" fill="#12a6f0"/>
<rect x="506.6" y="94" width="7.2" height="2" fill="#12a6f0"/>
<rect x="519" y="94" width="7.2" height="2" fill="#12a6f0"/>
<rect x="531.4" y="94" width="7.2" height="2" fill="#12a6f0"/>
<rect x="543.8" y="94" width="1.9" height="2" fill="#12a6f0"/>
<rect x="432.2" y="146.6" width="7.2" height="2" fill="#12a6f0"/>
<rect x="444.6" y="146.6" width="7.2" height="2" fill="#12a6f0"/>
<rect x="457" y="146.6" width="7.2" height="2" fill="#12a6f0"/>
<rect x="469.4" y="146.6" width="7.2" height="2" fill="#12a6f0"/>
<rect x="481.8" y="146.6" width="7.2" height="2" fill="#12a6f0"/>
<rect x="494.2" y="146.6" width="7.2" height="2" fill="#12a6f0"/>
<rect x="506.6" y="146.6" width="7.2" height="2" fill="#12a6f0"/>
<rect x="519" y="146.6" width="7.2" height="2" fill="#12a6f0"/>
<rect x="531.4" y="146.6" width="7.2" height="2" fill="#12a6f0"/>
<rect x="543.8" y="146.6" width="1.9" height="2" fill="#12a6f0"/>
<rect x="427.2" y="96" width="2" height="7.2" fill="#12a6f0"/>
<rect x="427.2" y="108.4" width="2" height="7.2" fill="#12a6f0"/>
<rect x="427.2" y="120.8" width="2" height="7.2" fill="#12a6f0"/>
<rect x="427.2" y="133.2" width="2" height="7.2" fill="#12a6f0"/>
<rect x="427.2" y="145.6" width="2" height="3" fill="#12a6f0"/>
<rect x="543.7" y="96" width="2" height="7.2" fill="#12a6f0"/>
<rect x="543.7" y="108.4" width="2" height="7.2" fill="#12a6f0"/>
<rect x="543.7" y="120.8" width="2" height="7.2" fill="#12a6f0"/>
<rect x="543.7" y="133.2" width="2" height="7.2" fill="#12a6f0"/>
<rect x="543.7" y="145.6" width="2" height="3" fill="#12a6f0"/>
<rect x="428.2" y="157.7" width="116.5" height="53.9" fill="#fff" stroke="#999" stroke-width="1"/>
<rect x="447.4" y="161.3" width="2.5" height="2.5" fill="#fff" stroke="#ff80ff" stroke-width="0.7"/>
<text transform="scale(0.82,1)" x="554.16 557.86 561.55 565.24 568.94 572.63 576.32" y="164.62" font-family='"Liberation Sans", Arial, sans-serif' font-size="6.2" fill="#555" font-weight="bold" text-anchor="middle">V(V4:+)</text>
<line x1="465.5" y1="169.9" x2="465.5" y2="208" stroke="#a6a6a6" stroke-width="0.8"/>
<line x1="484" y1="169.9" x2="484" y2="208" stroke="#a6a6a6" stroke-width="0.8"/>
<line x1="502.5" y1="169.9" x2="502.5" y2="208" stroke="#a6a6a6" stroke-width="0.8"/>
<line x1="521" y1="169.9" x2="521" y2="208" stroke="#a6a6a6" stroke-width="0.8"/>
<line x1="539.5" y1="169.9" x2="539.5" y2="208" stroke="#a6a6a6" stroke-width="0.8"/>
<line x1="447.1" y1="172.62" x2="543.2" y2="172.62" stroke="#c2c2c2" stroke-width="0.8"/>
<line x1="447.1" y1="175.83" x2="543.2" y2="175.83" stroke="#c2c2c2" stroke-width="0.8"/>
<line x1="447.1" y1="179.05" x2="543.2" y2="179.05" stroke="#8c8c8c" stroke-width="0.9"/>
<line x1="447.1" y1="182.27" x2="543.2" y2="182.27" stroke="#c2c2c2" stroke-width="0.8"/>
<line x1="447.1" y1="185.48" x2="543.2" y2="185.48" stroke="#c2c2c2" stroke-width="0.8"/>
<line x1="447.1" y1="188.7" x2="543.2" y2="188.7" stroke="#8c8c8c" stroke-width="0.9"/>
<line x1="447.1" y1="191.92" x2="543.2" y2="191.92" stroke="#c2c2c2" stroke-width="0.8"/>
<line x1="447.1" y1="195.13" x2="543.2" y2="195.13" stroke="#c2c2c2" stroke-width="0.8"/>
<line x1="447.1" y1="198.35" x2="543.2" y2="198.35" stroke="#8c8c8c" stroke-width="0.9"/>
<line x1="447.1" y1="201.57" x2="543.2" y2="201.57" stroke="#c2c2c2" stroke-width="0.8"/>
<line x1="447.1" y1="204.78" x2="543.2" y2="204.78" stroke="#c2c2c2" stroke-width="0.8"/>
<line x1="447.1" y1="169.4" x2="543.2" y2="169.4" stroke="#8c8c8c" stroke-width="1.1"/>
<line x1="447.1" y1="208" x2="543.2" y2="208" stroke="#8c8c8c" stroke-width="1.1"/>
<line x1="447.1" y1="169.4" x2="447.1" y2="208" stroke="#7a7a7a" stroke-width="1.0"/>
<line x1="444.9" y1="169.4" x2="447.1" y2="169.4" stroke="#8c8c8c" stroke-width="0.9"/>
<line x1="444.9" y1="182.27" x2="447.1" y2="182.27" stroke="#8c8c8c" stroke-width="0.9"/>
<line x1="444.9" y1="195.13" x2="447.1" y2="195.13" stroke="#8c8c8c" stroke-width="0.9"/>
<line x1="444.9" y1="208" x2="447.1" y2="208" stroke="#8c8c8c" stroke-width="0.9"/>
<text transform="scale(0.82,1)" x="524.29 528.24 532.20 536.15 540.10" y="171.83" font-family='"Liberation Sans", Arial, sans-serif' font-size="6.8" fill="#505050" font-weight="normal" text-anchor="middle" stroke="#505050" stroke-width="0.1">300mA</text>
<text transform="scale(0.82,1)" x="524.29 528.24 532.20 536.15 540.10" y="185.13" font-family='"Liberation Sans", Arial, sans-serif' font-size="6.8" fill="#505050" font-weight="normal" text-anchor="middle" stroke="#505050" stroke-width="0.1">200mA</text>
<text transform="scale(0.82,1)" x="524.29 528.24 532.20 536.15 540.10" y="198.23" font-family='"Liberation Sans", Arial, sans-serif' font-size="6.8" fill="#505050" font-weight="normal" text-anchor="middle" stroke="#505050" stroke-width="0.1">100mA</text>
<text transform="scale(0.82,1)" x="536.13 540.09" y="210.13" font-family='"Liberation Sans", Arial, sans-serif' font-size="6.8" fill="#505050" font-weight="normal" text-anchor="middle" stroke="#505050" stroke-width="0.1">0A</text>
<polyline points="447.1,178.6 447.2,178.6 447.2,208 454.2,208 454.2,178.6 461.4,178.6 461.4,208 469.5,208 469.5,178.4 476.8,178.4 476.8,208 484.5,208 484.5,177.2 491.5,177.2 491.5,208 499,208 499,177 506.5,177 506.5,208 513.3,208 513.3,176.4 521.2,176.4 521.2,208 528,208 528,176.2 536.3,176.2 536.3,208 543.2,208 543.2,176.2" fill="none" stroke="#5a2cff" stroke-width="1.05" stroke-linejoin="round"/>
<rect x="453" y="177.8" width="2.4" height="2.4" fill="#fff" stroke="#5200ff" stroke-width="0.8"/>
<rect x="468.3" y="190.1" width="2.4" height="2.4" fill="#fff" stroke="#5200ff" stroke-width="0.8"/>
<rect x="483.3" y="197.6" width="2.4" height="2.4" fill="#fff" stroke="#5200ff" stroke-width="0.8"/>
<rect x="505.3" y="194.1" width="2.4" height="2.4" fill="#fff" stroke="#5200ff" stroke-width="0.8"/>
<rect x="519.3" y="175.8" width="2.4" height="2.4" fill="#fff" stroke="#5200ff" stroke-width="0.8"/>
<rect x="526.8" y="175.3" width="2.4" height="2.4" fill="#fff" stroke="#5200ff" stroke-width="0.8"/>
<rect x="541.8" y="190.3" width="2.4" height="2.4" fill="#fff" stroke="#5200ff" stroke-width="0.8"/>
<rect x="432.2" y="156.7" width="7.2" height="2" fill="#ffb400"/>
<rect x="444.6" y="156.7" width="7.2" height="2" fill="#ffb400"/>
<rect x="457" y="156.7" width="7.2" height="2" fill="#ffb400"/>
<rect x="469.4" y="156.7" width="7.2" height="2" fill="#ffb400"/>
<rect x="481.8" y="156.7" width="7.2" height="2" fill="#ffb400"/>
<rect x="494.2" y="156.7" width="7.2" height="2" fill="#ffb400"/>
<rect x="506.6" y="156.7" width="7.2" height="2" fill="#ffb400"/>
<rect x="519" y="156.7" width="7.2" height="2" fill="#ffb400"/>
<rect x="531.4" y="156.7" width="7.2" height="2" fill="#ffb400"/>
<rect x="543.8" y="156.7" width="1.9" height="2" fill="#ffb400"/>
<rect x="432.2" y="210.6" width="7.2" height="2" fill="#ffb400"/>
<rect x="444.6" y="210.6" width="7.2" height="2" fill="#ffb400"/>
<rect x="457" y="210.6" width="7.2" height="2" fill="#ffb400"/>
<rect x="469.4" y="210.6" width="7.2" height="2" fill="#ffb400"/>
<rect x="481.8" y="210.6" width="7.2" height="2" fill="#ffb400"/>
<rect x="494.2" y="210.6" width="7.2" height="2" fill="#ffb400"/>
<rect x="506.6" y="210.6" width="7.2" height="2" fill="#ffb400"/>
<rect x="519" y="210.6" width="7.2" height="2" fill="#ffb400"/>
<rect x="531.4" y="210.6" width="7.2" height="2" fill="#ffb400"/>
<rect x="543.8" y="210.6" width="1.9" height="2" fill="#ffb400"/>
<rect x="427.2" y="158.5" width="2" height="7.2" fill="#ffb400"/>
<rect x="427.2" y="170.9" width="2" height="7.2" fill="#ffb400"/>
<rect x="427.2" y="183.3" width="2" height="7.2" fill="#ffb400"/>
<rect x="427.2" y="195.7" width="2" height="7.2" fill="#ffb400"/>
<rect x="427.2" y="208.1" width="2" height="4.5" fill="#ffb400"/>
<rect x="543.7" y="158.5" width="2" height="7.2" fill="#ffb400"/>
<rect x="543.7" y="170.9" width="2" height="7.2" fill="#ffb400"/>
<rect x="543.7" y="183.3" width="2" height="7.2" fill="#ffb400"/>
<rect x="543.7" y="195.7" width="2" height="7.2" fill="#ffb400"/>
<rect x="543.7" y="208.1" width="2" height="4.5" fill="#ffb400"/>
<text x="35.6" y="23" font-family='"Liberation Sans", Arial, sans-serif' font-size="11" text-anchor="middle" fill="#000" font-weight="bold" stroke="#000" stroke-width="0.2">AC</text>
<text x="35.6" y="36.3" font-family='"Liberation Sans", Arial, sans-serif' font-size="11" text-anchor="middle" fill="#000" font-weight="bold" stroke="#000" stroke-width="0.2">Input</text>
<text x="33" y="72" font-family='"Liberation Sans", Arial, sans-serif' font-size="11" text-anchor="middle" fill="#000" font-weight="bold" stroke="#000" stroke-width="0.2">LED</text>
<text x="33" y="85.3" font-family='"Liberation Sans", Arial, sans-serif' font-size="11" text-anchor="middle" fill="#000" font-weight="bold" stroke="#000" stroke-width="0.2">Supply</text>
<text x="33" y="98.6" font-family='"Liberation Sans", Arial, sans-serif' font-size="11" text-anchor="middle" fill="#000" font-weight="bold" stroke="#000" stroke-width="0.2">Input</text>
<text x="35.3" y="134.3" font-family='"Liberation Sans", Arial, sans-serif' font-size="11" text-anchor="middle" fill="#000" font-weight="bold" stroke="#000" stroke-width="0.2">Modulation</text>
<text x="35.3" y="147.7" font-family='"Liberation Sans", Arial, sans-serif' font-size="11" text-anchor="middle" fill="#000" font-weight="bold" stroke="#000" stroke-width="0.2">Signal</text>
<text x="30.8" y="185.7" font-family='"Liberation Sans", Arial, sans-serif' font-size="11" text-anchor="middle" fill="#000" font-weight="bold" stroke="#000" stroke-width="0.2">LED</text>
<text x="30.8" y="199" font-family='"Liberation Sans", Arial, sans-serif' font-size="11" text-anchor="middle" fill="#000" font-weight="bold" stroke="#000" stroke-width="0.2">Driving</text>
<text x="30.8" y="212.3" font-family='"Liberation Sans", Arial, sans-serif' font-size="11" text-anchor="middle" fill="#000" font-weight="bold" stroke="#000" stroke-width="0.2">Current</text>
<text x="228.9" y="238.4" font-family='"Liberation Sans", Arial, sans-serif' font-size="11" text-anchor="middle" fill="#000" font-weight="bold" stroke="#000" stroke-width="0.2">Time</text>
</svg>
</body></html>
